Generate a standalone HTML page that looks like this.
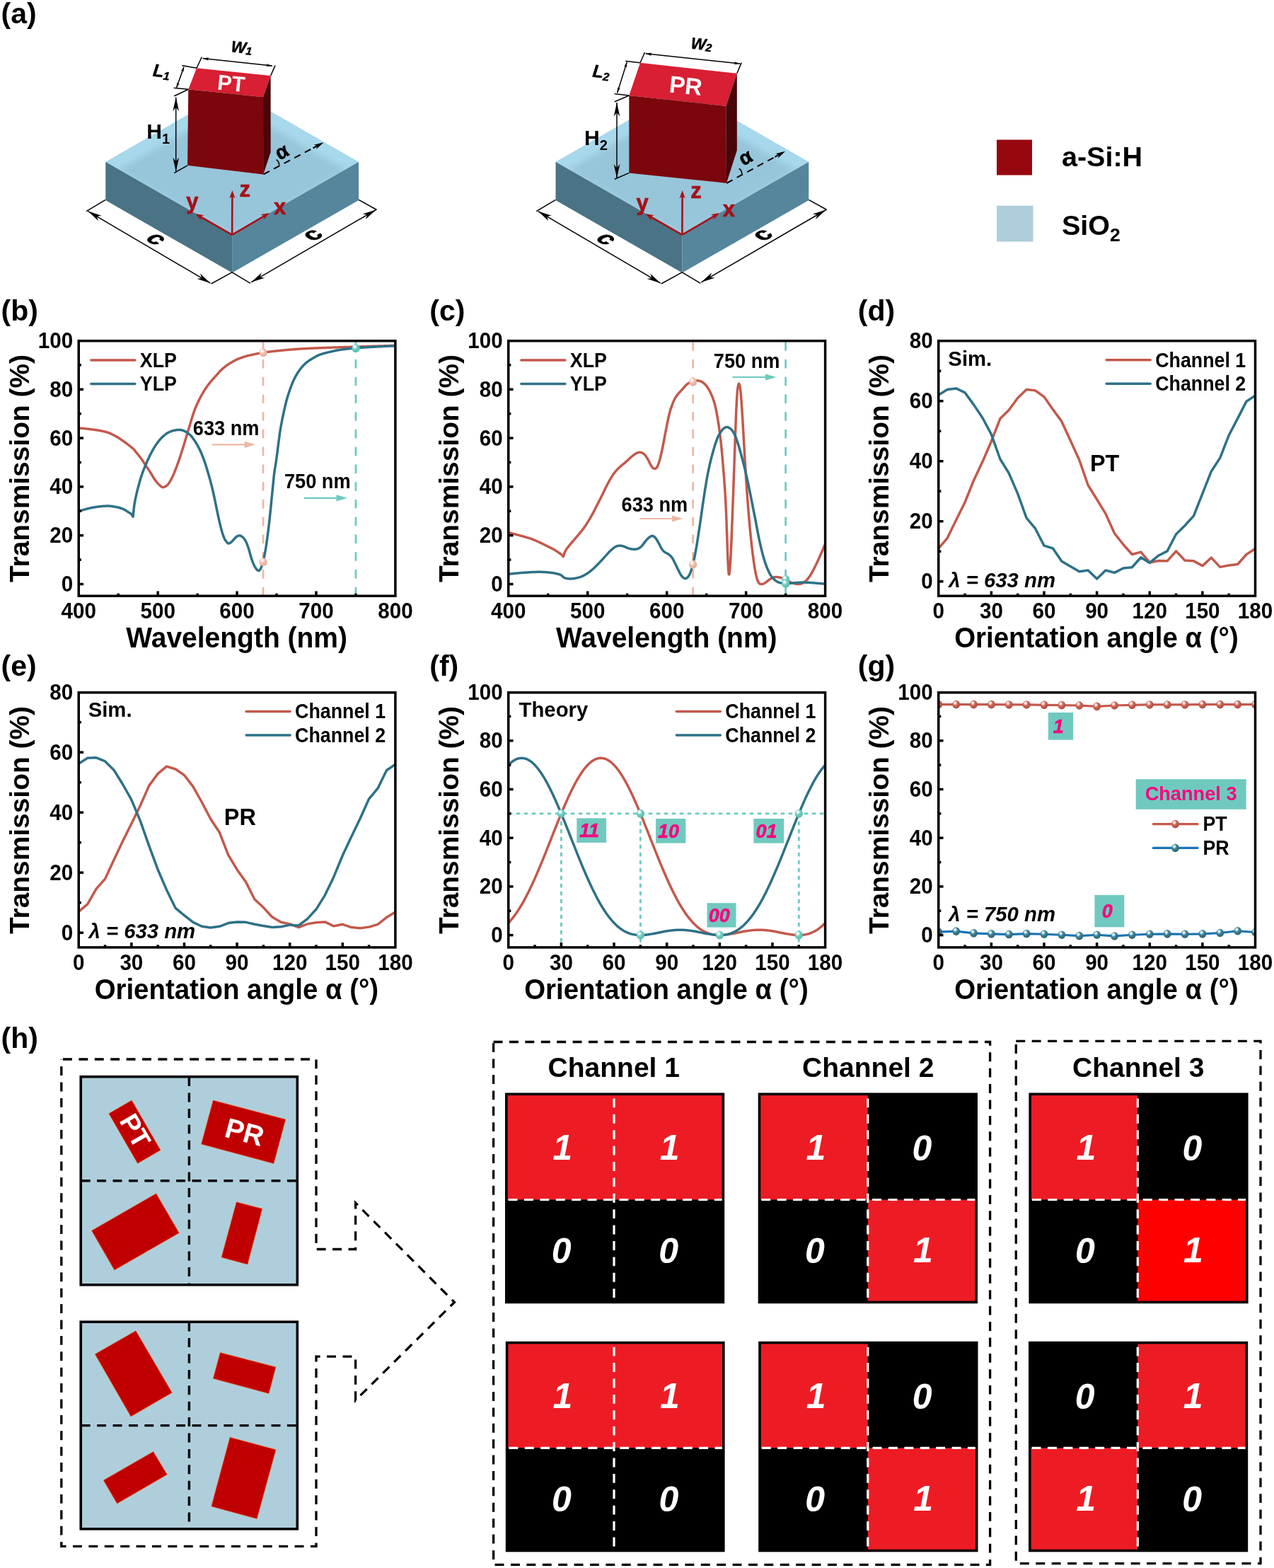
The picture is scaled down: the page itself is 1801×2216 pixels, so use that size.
<!DOCTYPE html>
<html lang="en"><head><meta charset="utf-8"><title>Figure</title>
<style>html,body{margin:0;padding:0;background:#fff}svg{display:block}text{font-family:'Liberation Sans', sans-serif;font-weight:bold}</style>
</head><body>
<svg width="1801" height="2216" viewBox="0 0 1801 2216" role="img" aria-label="Figure: nanostructure design, transmission spectra and encoding channels">
<defs>
<filter id="blur6" x="-30%" y="-30%" width="160%" height="160%"><feGaussianBlur stdDeviation="4.5"/></filter>
<radialGradient id="g_salmon" cx="0.40" cy="0.36" r="0.72" fx="0.36" fy="0.30"><stop offset="0" stop-color="#fff"/><stop offset="0.16" stop-color="#FFF3EE"/><stop offset="0.42" stop-color="#F0BFAE"/><stop offset="1" stop-color="#E3A591"/></radialGradient>
<radialGradient id="g_turq" cx="0.40" cy="0.36" r="0.72" fx="0.36" fy="0.30"><stop offset="0" stop-color="#fff"/><stop offset="0.16" stop-color="#E8FBF8"/><stop offset="0.42" stop-color="#73CEC4"/><stop offset="1" stop-color="#4FB5AA"/></radialGradient>
<radialGradient id="g_red" cx="0.40" cy="0.36" r="0.72" fx="0.36" fy="0.30"><stop offset="0" stop-color="#fff"/><stop offset="0.16" stop-color="#FBE3DE"/><stop offset="0.42" stop-color="#CC6657"/><stop offset="1" stop-color="#A9463A"/></radialGradient>
<radialGradient id="g_teal" cx="0.40" cy="0.36" r="0.72" fx="0.36" fy="0.30"><stop offset="0" stop-color="#fff"/><stop offset="0.16" stop-color="#D4ECF2"/><stop offset="0.42" stop-color="#3F8395"/><stop offset="1" stop-color="#255C6C"/></radialGradient>
<clipPath id="clip_top_0"><polygon points="149.25,228.75 328.15,126.25 507,228.75 328.1,331.25"/></clipPath>
<clipPath id="clip_top_636"><polygon points="785.5,228.75 964.4,126.25 1143.25,228.75 964.35,331.25"/></clipPath>
<clipPath id="cl_111_481"><rect x="111.25" y="481.75" width="447.65" height="360.5"/></clipPath>
<clipPath id="cl_718_481"><rect x="718.75" y="481.75" width="447.85" height="360.5"/></clipPath>
<clipPath id="cl_1326_481"><rect x="1326.75" y="481.75" width="447.75" height="360.5"/></clipPath>
<clipPath id="cl_111_978"><rect x="111.25" y="978.75" width="447.65" height="360.15"/></clipPath>
<clipPath id="cl_718_978"><rect x="718.75" y="978.75" width="447.85" height="360.15"/></clipPath>
<clipPath id="cl_1326_978"><rect x="1326.75" y="978.75" width="447.75" height="360.15"/></clipPath>
</defs>
<rect width="1801" height="2216" fill="#fff"/>
<text x="1.6" y="33" font-size="41">(a)</text>
<text x="1.6" y="452.8" font-size="41">(b)</text>
<text x="607.3" y="452.8" font-size="41">(c)</text>
<text x="1212.8" y="452.8" font-size="41">(d)</text>
<text x="1.6" y="954.8" font-size="41">(e)</text>
<text x="607.3" y="954.8" font-size="41">(f)</text>
<text x="1212.8" y="954.8" font-size="41">(g)</text>
<text x="1.6" y="1480.9" font-size="41">(h)</text>
<polygon points="149.25,228.75 328.15,126.25 507,228.75 328.1,331.25" fill="#A8D8EC"/>
<g clip-path="url(#clip_top_0)">
<polygon points="167.13,240.4 328.14,148.15 489.11,240.4 328.1,332.65" fill="#97C5DA" filter="url(#blur6)"/>
</g>
<polygon points="149.25,228.75 328.1,331.25 328.1,385.55 149.25,283.05" fill="#4A7385"/>
<polygon points="328.1,331.25 507,228.75 507,283.05 328.1,385.55" fill="#55869C"/>
<line x1="286.5" y1="82.6" x2="385" y2="93.1" stroke="#000" stroke-width="1.5"/>
<polygon points="385,93.1 375.82,94.33 378.56,92.41 376.28,89.96" fill="#000"/>
<polygon points="286.5,82.6 295.68,81.37 292.94,83.29 295.22,85.74" fill="#000"/>
<line x1="278" y1="96.2" x2="285.3" y2="80.5" stroke="#000" stroke-width="1.5"/>
<line x1="382.6" y1="107" x2="389" y2="92.6" stroke="#000" stroke-width="1.5"/>
<line x1="260" y1="94.6" x2="249.6" y2="123.8" stroke="#000" stroke-width="1.5"/>
<polygon points="249.6,123.8 250.06,116.53 251.29,119.05 253.83,117.88" fill="#000"/>
<polygon points="260,94.6 259.54,101.87 258.31,99.35 255.77,100.52" fill="#000"/>
<line x1="278" y1="96.2" x2="257.3" y2="92.4" stroke="#000" stroke-width="1.5"/>
<line x1="266.3" y1="126.3" x2="245.6" y2="124.3" stroke="#000" stroke-width="1.5"/>
<line x1="248.7" y1="137.5" x2="248.7" y2="242.2" stroke="#000" stroke-width="1.5"/>
<polygon points="248.7,242.2 244.4,222.7 248.7,228.16 253,222.7" fill="#000"/>
<polygon points="248.7,137.5 253,157 248.7,151.54 244.4,157" fill="#000"/>
<line x1="266.3" y1="126.3" x2="246.2" y2="135.7" stroke="#000" stroke-width="1.5"/>
<line x1="265" y1="233.8" x2="246.2" y2="244.6" stroke="#000" stroke-width="1.5"/>
<polygon points="266.3,126.3 278,96.2 382.6,107 372,137.2" fill="#D81F33"/>
<polygon points="266.3,126.3 372,137.2 372.2,246.4 265,233.8" fill="#7B060C"/>
<polygon points="372,137.2 382.6,107 382.6,215.3 372.2,246.4" fill="#4A0508"/>
<text x="326" y="128.2" font-size="30.5" text-anchor="middle" fill="#fff" transform="rotate(5.3 326 128.2)">PT</text>
<text x="326" y="73.3" font-size="22.6" font-style="italic" transform="rotate(6 326 73.3)" stroke="#000" stroke-width="0.5" stroke-linejoin="round">W<tspan font-size="15.5" dy="1.5">1</tspan></text>
<text x="215.5" y="107.5" font-size="25" font-style="italic" transform="rotate(6 215.5 107.5)" stroke="#000" stroke-width="0.5" stroke-linejoin="round">L<tspan font-size="16" dy="3.5">1</tspan></text>
<text x="207.3" y="196.3" font-size="30">H<tspan font-size="20" dy="7">1</tspan></text>
<line x1="372.5" y1="246.3" x2="450.53" y2="205.04" stroke="#000" stroke-width="2" stroke-dasharray="9.5 7"/>
<line x1="442.57" y1="209.25" x2="452.3" y2="204.1" stroke="#000" stroke-width="2"/>
<polygon points="457.6,201.3 446.91,211.03 448.69,206.01 443.54,204.66" fill="#000"/>
<path d="M390.6,225.6 Q394.6,228.3 394.6,233.2" fill="none" stroke="#000" stroke-width="1.7"/>
<text x="399.5" y="216.5" font-size="28" text-anchor="middle" transform="rotate(-29 399.5 216.5)" dy="7" stroke="#000" stroke-width="0.6">α</text>
<line x1="328.1" y1="331.9" x2="328.38" y2="274" stroke="#A61018" stroke-width="2.6"/>
<polygon points="328.4,269 332.54,280.62 328.36,277.35 324.14,280.58" fill="#A61018"/>
<line x1="328.1" y1="331.9" x2="280.63" y2="304.59" stroke="#A61018" stroke-width="2.6"/>
<polygon points="276.3,302.1 288.45,304.24 283.54,306.26 284.26,311.53" fill="#A61018"/>
<line x1="328.1" y1="331.9" x2="376.39" y2="303.53" stroke="#A61018" stroke-width="2.6"/>
<polygon points="380.7,301 372.83,310.5 373.5,305.23 368.57,303.25" fill="#A61018"/>
<text x="338.5" y="277.8" font-size="31" fill="#A61018" stroke="#A61018" stroke-width="0.7" stroke-linejoin="round">z</text>
<text x="263.3" y="294.8" font-size="31" fill="#A61018" stroke="#A61018" stroke-width="0.7" stroke-linejoin="round">y</text>
<text x="387" y="302.6" font-size="31" fill="#A61018" stroke="#A61018" stroke-width="0.7" stroke-linejoin="round">x</text>
<line x1="124.5" y1="298.6" x2="297.5" y2="400.2" stroke="#000" stroke-width="1.5"/>
<polygon points="297.5,400.2 278.51,394.03 285.39,393.09 282.86,386.62" fill="#000"/>
<polygon points="124.5,298.6 143.49,304.77 136.61,305.71 139.14,312.18" fill="#000"/>
<line x1="149.25" y1="282.3" x2="122" y2="298.6" stroke="#000" stroke-width="1.5"/>
<line x1="328" y1="384.8" x2="298.6" y2="401" stroke="#000" stroke-width="1.5"/>
<line x1="355.2" y1="398.8" x2="531.5" y2="296.5" stroke="#000" stroke-width="1.5"/>
<polygon points="531.5,296.5 516.79,310.01 519.36,303.55 512.48,302.57" fill="#000"/>
<polygon points="355.2,398.8 369.91,385.29 367.34,391.75 374.22,392.73" fill="#000"/>
<line x1="328" y1="384.8" x2="354" y2="400.3" stroke="#000" stroke-width="1.5"/>
<line x1="507" y1="282.3" x2="532.6" y2="296.5" stroke="#000" stroke-width="1.5"/>
<text transform="matrix(0.866 0.5 -0.866 0.5 211.9 342.65)" font-size="34" text-anchor="middle" x="0" y="0" stroke="#000" stroke-width="0.8">c</text>
<text transform="matrix(0.866 -0.5 0.866 0.5 450.6 336.9)" font-size="34" text-anchor="middle" x="0" y="0" stroke="#000" stroke-width="0.8">c</text>
<polygon points="785.5,228.75 964.4,126.25 1143.25,228.75 964.35,331.25" fill="#A8D8EC"/>
<g clip-path="url(#clip_top_636)">
<polygon points="803.38,240.4 964.39,148.15 1125.36,240.4 964.35,332.65" fill="#97C5DA" filter="url(#blur6)"/>
</g>
<polygon points="785.5,228.75 964.35,331.25 964.35,385.55 785.5,283.05" fill="#4A7385"/>
<polygon points="964.35,331.25 1143.25,228.75 1143.25,283.05 964.35,385.55" fill="#55869C"/>
<line x1="912.6" y1="75.8" x2="1046.3" y2="90.1" stroke="#000" stroke-width="1.5"/>
<polygon points="1046.3,90.1 1037.12,91.33 1039.86,89.41 1037.59,86.96" fill="#000"/>
<polygon points="912.6,75.8 921.78,74.57 919.04,76.49 921.31,78.94" fill="#000"/>
<line x1="905" y1="88.8" x2="911.5" y2="74" stroke="#000" stroke-width="1.5"/>
<line x1="1041.8" y1="103.8" x2="1048.2" y2="88.6" stroke="#000" stroke-width="1.5"/>
<line x1="886.3" y1="87.6" x2="872.6" y2="131.3" stroke="#000" stroke-width="1.5"/>
<polygon points="872.6,131.3 873.08,123.07 874.32,125.8 876.9,124.26" fill="#000"/>
<polygon points="886.3,87.6 885.82,95.83 884.58,93.1 882,94.64" fill="#000"/>
<line x1="905" y1="88.8" x2="884.3" y2="86.2" stroke="#000" stroke-width="1.5"/>
<line x1="889.3" y1="135" x2="868.6" y2="132.6" stroke="#000" stroke-width="1.5"/>
<line x1="872" y1="145" x2="872" y2="251.5" stroke="#000" stroke-width="1.5"/>
<polygon points="872,251.5 867.7,232 872,237.46 876.3,232" fill="#000"/>
<polygon points="872,145 876.3,164.5 872,159.04 867.7,164.5" fill="#000"/>
<line x1="889.3" y1="135" x2="868.8" y2="143.8" stroke="#000" stroke-width="1.5"/>
<line x1="889.3" y1="244.4" x2="868.8" y2="253.2" stroke="#000" stroke-width="1.5"/>
<polygon points="889.3,135 905,88.8 1041.8,103.8 1026.3,150" fill="#D81F33"/>
<polygon points="889.3,135 1026.3,150 1027,258.8 889.3,244.4" fill="#7B060C"/>
<polygon points="1026.3,150 1041.8,103.8 1041.8,212.5 1027,258.8" fill="#4A0508"/>
<text x="968.3" y="132.6" font-size="33.5" text-anchor="middle" fill="#fff" transform="rotate(5.8 968.3 132.6)">PR</text>
<text x="976" y="68.6" font-size="22.6" font-style="italic" transform="rotate(6 976 68.6)" stroke="#000" stroke-width="0.5" stroke-linejoin="round">W<tspan font-size="15.5" dy="1.5">2</tspan></text>
<text x="837" y="108.5" font-size="25" font-style="italic" transform="rotate(6 837 108.5)" stroke="#000" stroke-width="0.5" stroke-linejoin="round">L<tspan font-size="16" dy="3.5">2</tspan></text>
<text x="826" y="205" font-size="30">H<tspan font-size="20" dy="7">2</tspan></text>
<line x1="1027.2" y1="258.8" x2="1103.17" y2="217.61" stroke="#000" stroke-width="2" stroke-dasharray="9.5 7"/>
<line x1="1095.26" y1="221.9" x2="1104.93" y2="216.66" stroke="#000" stroke-width="2"/>
<polygon points="1110.2,213.8 1099.61,223.64 1101.34,218.6 1096.18,217.31" fill="#000"/>
<path d="M1044.8,238.2 Q1048.8,240.9 1048.8,245.8" fill="none" stroke="#000" stroke-width="1.7"/>
<text x="1055" y="224.5" font-size="28" text-anchor="middle" transform="rotate(-29 1055 224.5)" dy="7" stroke="#000" stroke-width="0.6">α</text>
<line x1="964.35" y1="331.9" x2="964.63" y2="274" stroke="#A61018" stroke-width="2.6"/>
<polygon points="964.65,269 968.79,280.62 964.61,277.35 960.39,280.58" fill="#A61018"/>
<line x1="964.35" y1="331.9" x2="916.88" y2="304.59" stroke="#A61018" stroke-width="2.6"/>
<polygon points="912.55,302.1 924.7,304.24 919.79,306.26 920.51,311.53" fill="#A61018"/>
<line x1="964.35" y1="331.9" x2="1012.64" y2="303.53" stroke="#A61018" stroke-width="2.6"/>
<polygon points="1016.95,301 1009.08,310.5 1009.75,305.23 1004.82,303.25" fill="#A61018"/>
<text x="976.25" y="280.3" font-size="31" fill="#A61018" stroke="#A61018" stroke-width="0.7" stroke-linejoin="round">z</text>
<text x="899.55" y="297.3" font-size="31" fill="#A61018" stroke="#A61018" stroke-width="0.7" stroke-linejoin="round">y</text>
<text x="1021.75" y="305.6" font-size="31" fill="#A61018" stroke="#A61018" stroke-width="0.7" stroke-linejoin="round">x</text>
<line x1="760.75" y1="298.6" x2="933.75" y2="400.2" stroke="#000" stroke-width="1.5"/>
<polygon points="933.75,400.2 914.76,394.03 921.64,393.09 919.11,386.62" fill="#000"/>
<polygon points="760.75,298.6 779.74,304.77 772.86,305.71 775.39,312.18" fill="#000"/>
<line x1="785.5" y1="282.3" x2="758.25" y2="298.6" stroke="#000" stroke-width="1.5"/>
<line x1="964.25" y1="384.8" x2="934.85" y2="401" stroke="#000" stroke-width="1.5"/>
<line x1="991.45" y1="398.8" x2="1167.75" y2="296.5" stroke="#000" stroke-width="1.5"/>
<polygon points="1167.75,296.5 1153.04,310.01 1155.61,303.55 1148.73,302.57" fill="#000"/>
<polygon points="991.45,398.8 1006.16,385.29 1003.59,391.75 1010.47,392.73" fill="#000"/>
<line x1="964.25" y1="384.8" x2="990.25" y2="400.3" stroke="#000" stroke-width="1.5"/>
<line x1="1143.25" y1="282.3" x2="1168.85" y2="296.5" stroke="#000" stroke-width="1.5"/>
<text transform="matrix(0.866 0.5 -0.866 0.5 848.15 342.65)" font-size="34" text-anchor="middle" x="0" y="0" stroke="#000" stroke-width="0.8">c</text>
<text transform="matrix(0.866 -0.5 0.866 0.5 1086.85 336.9)" font-size="34" text-anchor="middle" x="0" y="0" stroke="#000" stroke-width="0.8">c</text>
<rect x="1409" y="197.5" width="50" height="50" fill="#97070F"/>
<rect x="1409" y="290.7" width="51.5" height="50.8" fill="#AFCEDB"/>
<text x="1501" y="234.8" font-size="39.5">a-Si:H</text>
<text x="1501" y="332.2" font-size="39.5">SiO<tspan font-size="26.5" dy="8.4">2</tspan></text>
<line x1="372.01" y1="842.25" x2="372.01" y2="481.75" stroke="#EDB7A5" stroke-width="2.7" stroke-dasharray="12.4 12.35"/>
<line x1="502.94" y1="842.25" x2="502.94" y2="481.75" stroke="#6CCAC0" stroke-width="2.7" stroke-dasharray="12.4 12.35"/>
<polyline points="111.25,605 111.82,605.03 112.38,605.06 112.95,605.09 113.51,605.13 114.08,605.17 114.65,605.21 115.21,605.26 115.78,605.3 116.34,605.35 116.91,605.4 117.48,605.46 118.04,605.51 118.61,605.57 119.18,605.63 119.74,605.69 120.31,605.75 120.87,605.81 121.44,605.87 122.01,605.94 122.57,606.01 123.14,606.07 123.7,606.14 124.27,606.21 124.84,606.28 125.4,606.35 125.97,606.42 126.53,606.49 127.1,606.57 127.67,606.64 128.23,606.71 128.8,606.79 129.37,606.86 129.93,606.93 130.5,607 131.06,607.08 131.63,607.15 132.2,607.22 132.76,607.29 133.33,607.37 133.89,607.44 134.46,607.51 135.03,607.59 135.59,607.67 136.16,607.75 136.72,607.83 137.29,607.92 137.86,608.01 138.42,608.1 138.99,608.2 139.55,608.29 140.12,608.39 140.69,608.5 141.25,608.6 141.82,608.71 142.39,608.82 142.95,608.93 143.52,609.04 144.08,609.16 144.65,609.28 145.22,609.4 145.78,609.52 146.35,609.65 146.91,609.78 147.48,609.91 148.05,610.04 148.61,610.17 149.18,610.31 149.74,610.44 150.31,610.59 150.88,610.74 151.44,610.91 152.01,611.09 152.58,611.28 153.14,611.49 153.71,611.7 154.27,611.93 154.84,612.16 155.41,612.4 155.97,612.65 156.54,612.91 157.1,613.17 157.67,613.44 158.24,613.72 158.8,614 159.37,614.28 159.93,614.57 160.5,614.86 161.07,615.15 161.63,615.44 162.2,615.73 162.76,616.02 163.33,616.32 163.9,616.63 164.46,616.94 165.03,617.27 165.6,617.6 166.16,617.94 166.73,618.29 167.29,618.65 167.86,619.01 168.43,619.37 168.99,619.75 169.56,620.12 170.12,620.5 170.69,620.89 171.26,621.28 171.82,621.67 172.39,622.06 172.95,622.46 173.52,622.85 174.09,623.25 174.65,623.64 175.22,624.04 175.79,624.44 176.35,624.85 176.92,625.25 177.48,625.67 178.05,626.08 178.62,626.5 179.18,626.92 179.75,627.35 180.31,627.78 180.88,628.21 181.45,628.65 182.01,629.09 182.58,629.53 183.14,629.98 183.71,630.43 184.28,630.88 184.84,631.33 185.41,631.79 185.97,632.25 186.54,632.71 187.11,633.18 187.67,633.64 188.24,634.11 188.81,634.58 188.81,634.58 189.37,635.27 189.93,635.96 190.49,636.65 191.05,637.35 191.61,638.04 192.17,638.74 192.73,639.44 193.29,640.14 193.85,640.85 194.41,641.55 194.97,642.25 195.53,642.95 196.1,643.64 196.66,644.34 197.22,645.04 197.78,645.75 198.34,646.47 198.9,647.2 199.46,647.95 200.02,648.72 200.58,649.51 201.14,650.32 201.7,651.14 202.26,651.99 202.82,652.84 203.38,653.71 203.95,654.57 204.51,655.45 205.07,656.31 205.63,657.18 206.19,658.03 206.75,658.88 207.31,659.72 207.87,660.56 208.43,661.4 208.99,662.23 209.55,663.07 210.11,663.91 210.67,664.76 211.24,665.61 211.8,666.47 212.36,667.33 212.92,668.22 213.48,669.13 214.04,670.06 214.6,671.01 215.16,671.96 215.72,672.92 216.28,673.86 216.84,674.78 217.4,675.68 217.96,676.54 218.53,677.35 219.09,678.13 219.65,678.89 220.21,679.64 220.77,680.37 221.33,681.08 221.89,681.77 222.45,682.43 223.01,683.07 223.57,683.68 224.13,684.26 224.69,684.81 225.25,685.32 225.81,685.83 226.38,686.35 226.94,686.84 227.5,687.31 228.06,687.73 228.62,688.09 229.18,688.37 229.74,688.56 230.3,688.64 230.86,688.63 231.42,688.54 231.98,688.38 232.54,688.18 233.1,687.95 233.67,687.7 234.23,687.37 234.79,686.97 235.35,686.52 235.91,686.03 236.47,685.5 237.03,684.93 237.59,684.35 238.15,683.7 238.71,682.96 239.27,682.14 239.83,681.25 240.39,680.31 240.96,679.31 241.52,678.28 242.08,677.22 242.64,676.13 243.2,675.04 243.76,673.92 244.32,672.75 244.88,671.52 245.44,670.25 246,668.93 246.56,667.57 247.12,666.18 247.68,664.76 248.24,663.32 248.81,661.86 249.37,660.39 249.93,658.91 250.49,657.42 251.05,655.89 251.61,654.33 252.17,652.74 252.73,651.13 253.29,649.48 253.85,647.82 254.41,646.14 254.97,644.45 255.53,642.74 256.1,641.02 256.66,639.3 257.22,637.56 257.78,635.79 258.34,634 258.9,632.19 259.46,630.36 260.02,628.52 260.58,626.66 261.14,624.81 261.7,622.95 262.26,621.1 262.82,619.25 263.39,617.38 263.95,615.5 264.51,613.62 265.07,611.73 265.63,609.83 266.19,607.94 266.75,606.06 267.31,604.18 267.87,602.31 268.43,600.46 268.99,598.64 269.55,596.81 270.11,594.96 270.67,593.11 271.24,591.26 271.8,589.42 272.36,587.61 272.92,585.84 273.48,584.13 274.04,582.48 274.6,580.9 275.16,579.41 275.72,577.97 276.28,576.57 276.84,575.22 277.4,573.9 277.96,572.61 278.53,571.36 279.09,570.14 279.65,568.94 280.21,567.77 280.77,566.62 281.33,565.49 281.89,564.38 282.45,563.27 283.01,562.19 283.57,561.11 284.13,560.05 284.69,559.01 285.25,557.99 285.82,556.98 286.38,556 286.94,555.04 287.5,554.11 288.06,553.19 288.62,552.29 289.18,551.4 289.74,550.52 290.3,549.65 290.86,548.8 291.42,547.97 291.98,547.15 292.54,546.35 293.1,545.56 293.67,544.8 294.23,544.05 294.79,543.31 295.35,542.59 295.91,541.87 296.47,541.17 297.03,540.48 297.59,539.79 298.15,539.12 298.71,538.45 299.27,537.79 299.83,537.13 300.39,536.48 300.96,535.85 301.52,535.22 302.08,534.6 302.64,533.99 303.2,533.38 303.76,532.77 304.32,532.16 304.88,531.55 305.44,530.94 306,530.32 306.56,529.69 307.12,529.05 307.68,528.39 308.24,527.73 308.81,527.07 309.37,526.42 309.93,525.78 310.49,525.15 311.05,524.54 311.61,523.96 312.17,523.4 312.73,522.88 313.29,522.37 313.85,521.87 314.41,521.38 314.97,520.89 315.53,520.41 316.1,519.94 316.66,519.47 317.22,519.02 317.78,518.57 318.34,518.13 318.9,517.69 319.46,517.27 320.02,516.85 320.58,516.44 321.14,516.04 321.7,515.65 322.26,515.26 322.82,514.88 323.39,514.51 323.95,514.15 324.51,513.8 325.07,513.45 325.63,513.11 326.19,512.77 326.75,512.43 327.31,512.1 327.87,511.76 328.43,511.43 328.99,511.1 329.55,510.78 330.11,510.46 330.67,510.15 331.24,509.84 331.8,509.53 332.36,509.24 332.92,508.95 333.48,508.66 334.04,508.39 334.6,508.12 335.16,507.86 335.72,507.61 336.28,507.37 336.84,507.14 337.4,506.92 337.96,506.71 338.53,506.5 339.09,506.29 339.65,506.08 340.21,505.88 340.77,505.68 341.33,505.48 341.89,505.28 342.45,505.09 343.01,504.9 343.57,504.72 344.13,504.54 344.69,504.36 345.25,504.18 345.82,504.01 346.38,503.84 346.94,503.68 347.5,503.52 348.06,503.36 348.62,503.21 349.18,503.06 349.74,502.91 350.3,502.77 350.86,502.63 351.42,502.49 351.98,502.36 352.54,502.22 353.1,502.09 353.67,501.96 354.23,501.83 354.79,501.7 355.35,501.58 355.91,501.45 356.47,501.33 357.03,501.21 357.59,501.09 358.15,500.97 358.71,500.85 359.27,500.73 359.83,500.62 360.39,500.5 360.96,500.39 361.52,500.28 362.08,500.16 362.64,500.05 363.2,499.94 363.76,499.82 364.32,499.71 364.88,499.6 365.44,499.48 366,499.37 366.56,499.26 367.12,499.16 367.68,499.05 368.25,498.95 368.81,498.85 369.37,498.75 369.93,498.65 370.49,498.56 371.05,498.47 371.61,498.38 372.17,498.3 372.73,498.22 373.29,498.13 373.85,498.05 374.41,497.97 374.97,497.9 375.53,497.82 376.1,497.74 376.66,497.66 377.22,497.59 377.78,497.51 378.34,497.44 378.9,497.36 379.46,497.29 380.02,497.22 380.58,497.15 381.14,497.08 381.7,497.01 382.26,496.94 382.82,496.87 383.39,496.8 383.95,496.73 384.51,496.67 385.07,496.6 385.63,496.54 386.19,496.47 386.75,496.41 387.31,496.35 387.87,496.28 388.43,496.22 388.99,496.16 389.55,496.1 390.11,496.04 390.68,495.98 391.24,495.93 391.8,495.87 392.36,495.81 392.92,495.75 393.48,495.7 394.04,495.64 394.6,495.58 395.16,495.53 395.72,495.47 396.28,495.42 396.84,495.36 397.4,495.3 397.96,495.25 398.53,495.19 399.09,495.14 399.65,495.09 400.21,495.03 400.77,494.98 401.33,494.93 401.89,494.87 402.45,494.82 403.01,494.77 403.57,494.72 404.13,494.66 404.69,494.61 405.25,494.56 405.82,494.51 406.38,494.46 406.94,494.41 407.5,494.37 408.06,494.32 408.62,494.27 409.18,494.22 409.74,494.18 410.3,494.13 410.86,494.08 411.42,494.04 411.98,493.99 412.54,493.95 413.11,493.91 413.67,493.86 414.23,493.82 414.79,493.78 415.35,493.74 415.91,493.69 416.47,493.65 417.03,493.61 417.59,493.57 418.15,493.52 418.71,493.48 419.27,493.44 419.83,493.4 420.39,493.36 420.96,493.32 421.52,493.28 422.08,493.24 422.64,493.2 423.2,493.16 423.76,493.12 424.32,493.08 424.88,493.04 425.44,493 426,492.97 426.56,492.93 427.12,492.89 427.68,492.86 428.25,492.82 428.81,492.79 429.37,492.76 429.93,492.72 430.49,492.69 431.05,492.66 431.61,492.63 432.17,492.6 432.73,492.57 433.29,492.54 433.85,492.52 434.41,492.49 434.97,492.46 435.54,492.44 436.1,492.41 436.66,492.39 437.22,492.36 437.78,492.33 438.34,492.31 438.9,492.28 439.46,492.26 440.02,492.24 440.58,492.21 441.14,492.19 441.7,492.16 442.26,492.14 442.82,492.11 443.39,492.09 443.95,492.07 444.51,492.04 445.07,492.02 445.63,492 446.19,491.98 446.75,491.95 447.31,491.93 447.87,491.91 448.43,491.89 448.99,491.86 449.55,491.84 450.11,491.82 450.68,491.8 451.24,491.78 451.8,491.75 452.36,491.73 452.92,491.71 453.48,491.69 454.04,491.67 454.6,491.65 455.16,491.63 455.72,491.61 456.28,491.59 456.84,491.57 457.4,491.54 457.97,491.52 458.53,491.5 459.09,491.48 459.65,491.46 460.21,491.44 460.77,491.42 461.33,491.4 461.89,491.39 462.45,491.37 463.01,491.35 463.57,491.33 464.13,491.31 464.69,491.29 465.25,491.27 465.82,491.25 466.38,491.23 466.94,491.21 467.5,491.19 468.06,491.18 468.62,491.16 469.18,491.14 469.74,491.12 470.3,491.1 470.86,491.08 471.42,491.06 471.98,491.05 472.54,491.03 473.11,491.01 473.67,490.99 474.23,490.97 474.79,490.96 475.35,490.94 475.91,490.92 476.47,490.9 477.03,490.89 477.59,490.87 478.15,490.85 478.71,490.83 479.27,490.82 479.83,490.8 480.4,490.78 480.96,490.76 481.52,490.75 482.08,490.73 482.64,490.71 483.2,490.7 483.76,490.68 484.32,490.66 484.88,490.65 485.44,490.63 486,490.61 486.56,490.59 487.12,490.58 487.68,490.56 488.25,490.54 488.81,490.53 489.37,490.51 489.93,490.49 490.49,490.48 491.05,490.46 491.61,490.44 492.17,490.43 492.73,490.41 493.29,490.39 493.85,490.38 494.41,490.36 494.97,490.34 495.54,490.32 496.1,490.31 496.66,490.29 497.22,490.27 497.78,490.26 498.34,490.24 498.9,490.22 499.46,490.21 500.02,490.19 500.58,490.17 501.14,490.16 501.7,490.14 502.26,490.12 502.83,490.1 503.39,490.09 503.95,490.07 504.51,490.05 505.07,490.03 505.63,490.02 506.19,490 506.75,489.98 507.31,489.97 507.87,489.95 508.43,489.93 508.99,489.91 509.55,489.9 510.11,489.88 510.68,489.86 511.24,489.85 511.8,489.83 512.36,489.81 512.92,489.79 513.48,489.78 514.04,489.76 514.6,489.74 515.16,489.72 515.72,489.71 516.28,489.69 516.84,489.67 517.4,489.66 517.97,489.64 518.53,489.62 519.09,489.6 519.65,489.59 520.21,489.57 520.77,489.55 521.33,489.53 521.89,489.52 522.45,489.5 523.01,489.48 523.57,489.47 524.13,489.45 524.69,489.43 525.26,489.41 525.82,489.4 526.38,489.38 526.94,489.36 527.5,489.35 528.06,489.33 528.62,489.31 529.18,489.29 529.74,489.28 530.3,489.26 530.86,489.24 531.42,489.22 531.98,489.21 532.54,489.19 533.11,489.17 533.67,489.16 534.23,489.14 534.79,489.12 535.35,489.1 535.91,489.09 536.47,489.07 537.03,489.05 537.59,489.03 538.15,489.02 538.71,489 539.27,488.98 539.83,488.97 540.4,488.95 540.96,488.93 541.52,488.91 542.08,488.9 542.64,488.88 543.2,488.86 543.76,488.85 544.32,488.83 544.88,488.81 545.44,488.79 546,488.78 546.56,488.76 547.12,488.74 547.69,488.72 548.25,488.71 548.81,488.69 549.37,488.67 549.93,488.66 550.49,488.64 551.05,488.62 551.61,488.6 552.17,488.59 552.73,488.57 553.29,488.55 553.85,488.54 554.41,488.52 554.97,488.5 555.54,488.48 556.1,488.47 556.66,488.45 557.22,488.43 557.78,488.41 558.34,488.4 558.9,488.38" fill="none" stroke="#C3594B" stroke-width="3.5" stroke-linejoin="round" stroke-linecap="round" clip-path="url(#cl_111_481)"/>
<polyline points="111.25,722.64 111.81,722.46 112.38,722.27 112.94,722.08 113.51,721.9 114.07,721.72 114.64,721.54 115.2,721.36 115.77,721.19 116.33,721.01 116.89,720.84 117.46,720.67 118.02,720.51 118.59,720.34 119.15,720.18 119.72,720.02 120.28,719.87 120.85,719.72 121.41,719.56 121.98,719.41 122.54,719.26 123.1,719.11 123.67,718.96 124.23,718.81 124.8,718.67 125.36,718.52 125.93,718.38 126.49,718.25 127.06,718.11 127.62,717.98 128.18,717.86 128.75,717.74 129.31,717.63 129.88,717.52 130.44,717.41 131.01,717.31 131.57,717.21 132.14,717.11 132.7,717.01 133.27,716.91 133.83,716.81 134.39,716.72 134.96,716.63 135.52,716.54 136.09,716.45 136.65,716.37 137.22,716.28 137.78,716.21 138.35,716.13 138.91,716.06 139.47,715.98 140.04,715.92 140.6,715.85 141.17,715.79 141.73,715.74 142.3,715.68 142.86,715.63 143.43,715.58 143.99,715.52 144.56,715.47 145.12,715.43 145.68,715.38 146.25,715.34 146.81,715.3 147.38,715.26 147.94,715.23 148.51,715.19 149.07,715.17 149.64,715.14 150.2,715.12 150.76,715.1 151.33,715.09 151.89,715.08 152.46,715.08 153.02,715.08 153.59,715.09 154.15,715.12 154.72,715.15 155.28,715.19 155.85,715.25 156.41,715.3 156.97,715.37 157.54,715.44 158.1,715.52 158.67,715.6 159.23,715.69 159.8,715.78 160.36,715.87 160.93,715.96 161.49,716.06 162.05,716.15 162.62,716.25 163.18,716.34 163.75,716.44 164.31,716.53 164.88,716.63 165.44,716.75 166.01,716.87 166.57,717 167.14,717.14 167.7,717.29 168.26,717.45 168.83,717.61 169.39,717.78 169.96,717.96 170.52,718.15 171.09,718.35 171.65,718.55 172.22,718.76 172.78,718.97 173.34,719.19 173.91,719.42 174.47,719.65 175.04,719.89 175.6,720.15 176.17,720.44 176.73,720.76 177.3,721.09 177.86,721.45 178.43,721.82 178.99,722.2 179.55,722.58 180.12,722.96 180.68,723.33 181.25,723.7 181.81,724.06 182.38,724.39 182.94,724.71 183.51,725.03 184.07,725.37 184.63,725.74 185.2,726.15 185.76,726.72 186.33,727.46 186.89,728.32 187.46,729.25 188.02,730.21 188.02,730.21 188.58,724.65 189.14,719.63 189.71,714.96 190.27,711.29 190.83,708.15 191.39,705.28 191.95,702.61 192.51,700.08 193.07,697.62 193.63,695.24 194.19,692.94 194.76,690.74 195.32,688.63 195.88,686.53 196.44,684.45 197,682.39 197.56,680.38 198.12,678.43 198.68,676.53 199.24,674.72 199.8,672.99 200.37,671.35 200.93,669.75 201.49,668.19 202.05,666.67 202.61,665.18 203.17,663.72 203.73,662.3 204.29,660.9 204.85,659.53 205.42,658.17 205.98,656.84 206.54,655.53 207.1,654.23 207.66,652.94 208.22,651.66 208.78,650.39 209.34,649.15 209.9,647.92 210.47,646.71 211.03,645.53 211.59,644.37 212.15,643.24 212.71,642.14 213.27,641.06 213.83,639.98 214.39,638.92 214.95,637.88 215.52,636.85 216.08,635.85 216.64,634.86 217.2,633.9 217.76,632.97 218.32,632.06 218.88,631.18 219.44,630.31 220,629.46 220.56,628.62 221.13,627.79 221.69,626.98 222.25,626.19 222.81,625.41 223.37,624.66 223.93,623.93 224.49,623.23 225.05,622.55 225.61,621.9 226.18,621.25 226.74,620.61 227.3,619.99 227.86,619.38 228.42,618.79 228.98,618.22 229.54,617.67 230.1,617.14 230.66,616.64 231.23,616.15 231.79,615.67 232.35,615.2 232.91,614.72 233.47,614.26 234.03,613.81 234.59,613.38 235.15,612.96 235.71,612.57 236.28,612.21 236.84,611.88 237.4,611.58 237.96,611.3 238.52,611.03 239.08,610.76 239.64,610.5 240.2,610.25 240.76,610 241.33,609.76 241.89,609.54 242.45,609.33 243.01,609.13 243.57,608.94 244.13,608.78 244.69,608.63 245.25,608.5 245.81,608.38 246.37,608.27 246.94,608.16 247.5,608.06 248.06,607.95 248.62,607.85 249.18,607.76 249.74,607.68 250.3,607.6 250.86,607.54 251.42,607.48 251.99,607.44 252.55,607.41 253.11,607.4 253.67,607.42 254.23,607.46 254.79,607.52 255.35,607.6 255.91,607.69 256.47,607.8 257.04,607.92 257.6,608.04 258.16,608.16 258.72,608.33 259.28,608.54 259.84,608.77 260.4,609.04 260.96,609.32 261.52,609.61 262.09,609.91 262.65,610.2 263.21,610.51 263.77,610.85 264.33,611.21 264.89,611.59 265.45,611.99 266.01,612.41 266.57,612.85 267.14,613.31 267.7,613.78 268.26,614.27 268.82,614.77 269.38,615.29 269.94,615.86 270.5,616.48 271.06,617.15 271.62,617.85 272.18,618.59 272.75,619.35 273.31,620.14 273.87,620.94 274.43,621.75 274.99,622.56 275.55,623.39 276.11,624.25 276.67,625.14 277.23,626.06 277.8,627.01 278.36,627.99 278.92,628.99 279.48,630.01 280.04,631.05 280.6,632.1 281.16,633.17 281.72,634.26 282.28,635.39 282.85,636.57 283.41,637.77 283.97,639.02 284.53,640.3 285.09,641.62 285.65,642.97 286.21,644.35 286.77,645.75 287.33,647.19 287.9,648.66 288.46,650.2 289.02,651.8 289.58,653.46 290.14,655.16 290.7,656.91 291.26,658.69 291.82,660.5 292.38,662.33 292.95,664.18 293.51,666.04 294.07,667.91 294.63,669.81 295.19,671.75 295.75,673.72 296.31,675.73 296.87,677.77 297.43,679.84 297.99,681.95 298.56,684.1 299.12,686.28 299.68,688.49 300.24,690.75 300.8,693.09 301.36,695.54 301.92,698.05 302.48,700.62 303.04,703.23 303.61,705.85 304.17,708.5 304.73,711.23 305.29,714.01 305.85,716.8 306.41,719.59 306.97,722.33 307.53,725 308.09,727.62 308.66,730.21 309.22,732.78 309.78,735.29 310.34,737.72 310.9,740.07 311.46,742.35 312.02,744.62 312.58,746.85 313.14,749.01 313.71,751.06 314.27,752.96 314.83,754.69 315.39,756.26 315.95,757.8 316.51,759.26 317.07,760.63 317.63,761.86 318.19,762.93 318.76,763.8 319.32,764.54 319.88,765.3 320.44,766.03 321,766.7 321.56,767.27 322.12,767.71 322.68,767.99 323.24,768.06 323.8,767.95 324.37,767.76 324.93,767.48 325.49,767.15 326.05,766.76 326.61,766.32 327.17,765.85 327.73,765.36 328.29,764.83 328.85,764.24 329.42,763.6 329.98,762.94 330.54,762.26 331.1,761.6 331.66,760.98 332.22,760.4 332.78,759.89 333.34,759.38 333.9,758.89 334.47,758.43 335.03,758.02 335.59,757.67 336.15,757.41 336.71,757.21 337.27,757.08 337.83,756.99 338.39,756.96 338.95,756.97 339.52,757.04 340.08,757.18 340.64,757.42 341.2,757.73 341.76,758.11 342.32,758.53 342.88,758.98 343.44,759.43 344,759.94 344.57,760.57 345.13,761.3 345.69,762.12 346.25,763.01 346.81,763.95 347.37,764.93 347.93,766 348.49,767.24 349.05,768.61 349.61,770.09 350.18,771.65 350.74,773.27 351.3,774.92 351.86,776.68 352.42,778.59 352.98,780.61 353.54,782.66 354.1,784.67 354.66,786.6 355.23,788.38 355.79,790.12 356.35,791.82 356.91,793.44 357.47,794.94 358.03,796.29 358.59,797.53 359.15,798.7 359.71,799.8 360.28,800.83 360.84,801.78 361.4,802.66 361.96,803.51 362.52,804.31 363.08,805.02 363.64,805.57 364.2,806.02 364.76,806.36 365.33,806.56 365.89,806.53 366.45,806.21 367.01,805.69 367.57,805.07 368.13,804.33 368.69,803.25 369.25,801.93 369.81,800.5 370.38,798.99 370.94,797.22 371.5,795.25 372.06,793.14 372.62,790.85 373.18,788.37 373.74,785.71 374.3,782.9 374.86,779.95 375.42,776.78 375.99,773.23 376.55,769.41 377.11,765.41 377.67,761.37 378.23,757.24 378.79,752.94 379.35,748.48 379.91,743.86 380.47,739.06 381.04,734.03 381.6,728.81 382.16,723.48 382.72,718.07 383.28,712.5 383.84,706.78 384.4,701.03 384.96,695.37 385.52,689.68 386.09,683.87 386.65,678.2 387.21,672.91 387.77,668.25 388.33,664.31 388.89,660.84 389.45,657.54 390.01,654.11 390.57,650.26 391.14,646.12 391.7,641.85 392.26,637.5 392.82,632.99 393.38,628.46 393.94,624.08 394.5,619.86 395.06,615.71 395.62,611.73 396.18,608.06 396.75,604.7 397.31,601.51 397.87,598.47 398.43,595.53 398.99,592.7 399.55,589.93 400.11,587.21 400.67,584.55 401.23,581.95 401.8,579.42 402.36,576.96 402.92,574.57 403.48,572.22 404.04,569.91 404.6,567.69 405.16,565.56 405.72,563.56 406.28,561.66 406.85,559.82 407.41,558.05 407.97,556.32 408.53,554.63 409.09,552.95 409.65,551.29 410.21,549.66 410.77,548.06 411.33,546.51 411.9,545.01 412.46,543.56 413.02,542.13 413.58,540.74 414.14,539.41 414.7,538.16 415.26,537 415.82,535.86 416.38,534.75 416.95,533.65 417.51,532.58 418.07,531.54 418.63,530.53 419.19,529.54 419.75,528.59 420.31,527.67 420.87,526.79 421.43,525.94 421.99,525.12 422.56,524.3 423.12,523.51 423.68,522.73 424.24,521.97 424.8,521.22 425.36,520.5 425.92,519.81 426.48,519.13 427.04,518.49 427.61,517.86 428.17,517.26 428.73,516.66 429.29,516.07 429.85,515.49 430.41,514.93 430.97,514.39 431.53,513.86 432.09,513.35 432.66,512.86 433.22,512.39 433.78,511.94 434.34,511.51 434.9,511.09 435.46,510.67 436.02,510.27 436.58,509.87 437.14,509.48 437.71,509.11 438.27,508.74 438.83,508.38 439.39,508.04 439.95,507.7 440.51,507.37 441.07,507.04 441.63,506.71 442.19,506.38 442.76,506.05 443.32,505.72 443.88,505.39 444.44,505.07 445,504.74 445.56,504.43 446.12,504.11 446.68,503.8 447.24,503.5 447.8,503.21 448.37,502.92 448.93,502.65 449.49,502.38 450.05,502.12 450.61,501.88 451.17,501.64 451.73,501.42 452.29,501.21 452.85,501.01 453.42,500.83 453.98,500.64 454.54,500.46 455.1,500.28 455.66,500.11 456.22,499.94 456.78,499.78 457.34,499.62 457.9,499.46 458.47,499.31 459.03,499.15 459.59,499.01 460.15,498.86 460.71,498.71 461.27,498.57 461.83,498.43 462.39,498.29 462.95,498.16 463.52,498.02 464.08,497.89 464.64,497.75 465.2,497.62 465.76,497.49 466.32,497.36 466.88,497.22 467.44,497.09 468,496.95 468.57,496.82 469.13,496.69 469.69,496.56 470.25,496.42 470.81,496.29 471.37,496.17 471.93,496.04 472.49,495.92 473.05,495.79 473.61,495.67 474.18,495.55 474.74,495.44 475.3,495.33 475.86,495.22 476.42,495.11 476.98,495.01 477.54,494.92 478.1,494.82 478.66,494.73 479.23,494.64 479.79,494.54 480.35,494.45 480.91,494.37 481.47,494.28 482.03,494.19 482.59,494.11 483.15,494.03 483.71,493.95 484.28,493.87 484.84,493.79 485.4,493.71 485.96,493.64 486.52,493.56 487.08,493.49 487.64,493.42 488.2,493.35 488.76,493.28 489.33,493.22 489.89,493.15 490.45,493.09 491.01,493.02 491.57,492.96 492.13,492.89 492.69,492.83 493.25,492.77 493.81,492.7 494.38,492.64 494.94,492.58 495.5,492.52 496.06,492.46 496.62,492.4 497.18,492.34 497.74,492.28 498.3,492.22 498.86,492.17 499.42,492.12 499.99,492.06 500.55,492.01 501.11,491.97 501.67,491.92 502.23,491.87 502.79,491.83 503.35,491.79 503.91,491.75 504.47,491.71 505.04,491.67 505.6,491.63 506.16,491.59 506.72,491.55 507.28,491.51 507.84,491.47 508.4,491.43 508.96,491.4 509.52,491.36 510.09,491.32 510.65,491.29 511.21,491.25 511.77,491.21 512.33,491.18 512.89,491.14 513.45,491.1 514.01,491.07 514.57,491.03 515.14,491 515.7,490.96 516.26,490.93 516.82,490.9 517.38,490.86 517.94,490.83 518.5,490.79 519.06,490.76 519.62,490.73 520.19,490.7 520.75,490.66 521.31,490.63 521.87,490.6 522.43,490.57 522.99,490.53 523.55,490.5 524.11,490.47 524.67,490.44 525.23,490.41 525.8,490.38 526.36,490.35 526.92,490.32 527.48,490.28 528.04,490.25 528.6,490.22 529.16,490.19 529.72,490.16 530.28,490.13 530.85,490.1 531.41,490.07 531.97,490.04 532.53,490.01 533.09,489.99 533.65,489.96 534.21,489.93 534.77,489.9 535.33,489.87 535.9,489.84 536.46,489.81 537.02,489.78 537.58,489.75 538.14,489.72 538.7,489.69 539.26,489.66 539.82,489.63 540.38,489.6 540.95,489.57 541.51,489.55 542.07,489.52 542.63,489.49 543.19,489.46 543.75,489.43 544.31,489.4 544.87,489.37 545.43,489.35 546,489.32 546.56,489.29 547.12,489.26 547.68,489.24 548.24,489.21 548.8,489.18 549.36,489.15 549.92,489.13 550.48,489.1 551.04,489.07 551.61,489.05 552.17,489.02 552.73,489 553.29,488.97 553.85,488.94 554.41,488.92 554.97,488.89 555.53,488.87 556.09,488.84 556.66,488.82 557.22,488.8 557.78,488.77 558.34,488.75 558.9,488.72" fill="none" stroke="#2E7187" stroke-width="3.5" stroke-linejoin="round" stroke-linecap="round" clip-path="url(#cl_111_481)"/>
<ellipse cx="372.01" cy="498.36" rx="5.6" ry="5.99" fill="url(#g_salmon)"/>
<ellipse cx="372.01" cy="794.2" rx="5.6" ry="5.99" fill="url(#g_salmon)"/>
<ellipse cx="502.94" cy="492.16" rx="5.6" ry="5.99" fill="url(#g_turq)"/>
<line x1="128.85" y1="508.9" x2="190.85" y2="508.9" stroke="#C3594B" stroke-width="3.5" stroke-linecap="round"/>
<text x="0" y="0" font-size="26.8" transform="translate(197.85 518.7) scale(1 1.075)">XLP</text>
<line x1="128.85" y1="542.4" x2="190.85" y2="542.4" stroke="#2E7187" stroke-width="3.5" stroke-linecap="round"/>
<text x="0" y="0" font-size="26.8" transform="translate(197.85 552.2) scale(1 1.075)">YLP</text>
<text x="0" y="0" font-size="27.2" text-anchor="middle" transform="translate(319.6 615) scale(1 1.075)">633 nm</text>
<line x1="299.5" y1="628.3" x2="349.3" y2="628.3" stroke="#EDB7A5" stroke-width="2.2"/>
<polygon points="361.3,628.3 345.8,623.7 345.8,632.9" fill="#EDB7A5"/>
<text x="0" y="0" font-size="27.2" text-anchor="middle" transform="translate(448.8 690) scale(1 1.075)">750 nm</text>
<line x1="429.8" y1="703.8" x2="479" y2="703.8" stroke="#6CCAC0" stroke-width="2.2"/>
<polygon points="491,703.8 475.5,699.2 475.5,708.4" fill="#6CCAC0"/>
<line x1="223.16" y1="842.25" x2="223.16" y2="835.45" stroke="#000" stroke-width="3.5"/>
<line x1="335.07" y1="842.25" x2="335.07" y2="835.45" stroke="#000" stroke-width="3.5"/>
<line x1="446.99" y1="842.25" x2="446.99" y2="835.45" stroke="#000" stroke-width="3.5"/>
<line x1="167.21" y1="842.25" x2="167.21" y2="838.65" stroke="#000" stroke-width="3.5"/>
<line x1="279.12" y1="842.25" x2="279.12" y2="838.65" stroke="#000" stroke-width="3.5"/>
<line x1="391.03" y1="842.25" x2="391.03" y2="838.65" stroke="#000" stroke-width="3.5"/>
<line x1="502.94" y1="842.25" x2="502.94" y2="838.65" stroke="#000" stroke-width="3.5"/>
<line x1="111.25" y1="825.5" x2="118.05" y2="825.5" stroke="#000" stroke-width="3.5"/>
<line x1="111.25" y1="756.7" x2="118.05" y2="756.7" stroke="#000" stroke-width="3.5"/>
<line x1="111.25" y1="687.9" x2="118.05" y2="687.9" stroke="#000" stroke-width="3.5"/>
<line x1="111.25" y1="619.1" x2="118.05" y2="619.1" stroke="#000" stroke-width="3.5"/>
<line x1="111.25" y1="550.3" x2="118.05" y2="550.3" stroke="#000" stroke-width="3.5"/>
<line x1="111.25" y1="791.1" x2="114.85" y2="791.1" stroke="#000" stroke-width="3.5"/>
<line x1="111.25" y1="722.3" x2="114.85" y2="722.3" stroke="#000" stroke-width="3.5"/>
<line x1="111.25" y1="653.5" x2="114.85" y2="653.5" stroke="#000" stroke-width="3.5"/>
<line x1="111.25" y1="584.7" x2="114.85" y2="584.7" stroke="#000" stroke-width="3.5"/>
<line x1="111.25" y1="515.9" x2="114.85" y2="515.9" stroke="#000" stroke-width="3.5"/>
<rect x="111.25" y="481.75" width="447.65" height="360.5" fill="none" stroke="#000" stroke-width="3.5"/>
<text x="0" y="0" font-size="29.65" text-anchor="middle" transform="translate(111.25 873.95) scale(1 1.075)">400</text>
<text x="0" y="0" font-size="29.65" text-anchor="middle" transform="translate(223.16 873.95) scale(1 1.075)">500</text>
<text x="0" y="0" font-size="29.65" text-anchor="middle" transform="translate(335.07 873.95) scale(1 1.075)">600</text>
<text x="0" y="0" font-size="29.65" text-anchor="middle" transform="translate(446.99 873.95) scale(1 1.075)">700</text>
<text x="0" y="0" font-size="29.65" text-anchor="middle" transform="translate(558.9 873.95) scale(1 1.075)">800</text>
<text x="0" y="0" font-size="29.65" text-anchor="end" transform="translate(103.25 835.9) scale(1 1.075)">0</text>
<text x="0" y="0" font-size="29.65" text-anchor="end" transform="translate(103.25 767.1) scale(1 1.075)">20</text>
<text x="0" y="0" font-size="29.65" text-anchor="end" transform="translate(103.25 698.3) scale(1 1.075)">40</text>
<text x="0" y="0" font-size="29.65" text-anchor="end" transform="translate(103.25 629.5) scale(1 1.075)">60</text>
<text x="0" y="0" font-size="29.65" text-anchor="end" transform="translate(103.25 560.7) scale(1 1.075)">80</text>
<text x="0" y="0" font-size="29.65" text-anchor="end" transform="translate(103.25 491.9) scale(1 1.075)">100</text>
<text x="0" y="0" font-size="39" text-anchor="middle" transform="translate(334.68 915.25) scale(1 1.060)">Wavelength (nm)</text>
<text x="40.65" y="662.05" font-size="38.9" text-anchor="middle" transform="rotate(-90 40.65 662.05)">Transmission (%)</text>
<line x1="979.62" y1="842.25" x2="979.62" y2="481.75" stroke="#EDB7A5" stroke-width="2.7" stroke-dasharray="12.4 12.35"/>
<line x1="1110.62" y1="842.25" x2="1110.62" y2="481.75" stroke="#6CCAC0" stroke-width="2.7" stroke-dasharray="12.4 12.35"/>
<polyline points="718.75,752.57 719.32,752.71 719.88,752.86 720.45,753 721.01,753.14 721.58,753.29 722.14,753.43 722.71,753.58 723.27,753.73 723.84,753.87 724.41,754.02 724.97,754.17 725.54,754.32 726.1,754.47 726.67,754.61 727.23,754.76 727.8,754.91 728.36,755.07 728.93,755.22 729.5,755.37 730.06,755.52 730.63,755.67 731.19,755.82 731.76,755.98 732.32,756.13 732.89,756.28 733.45,756.44 734.02,756.59 734.58,756.74 735.15,756.9 735.72,757.05 736.28,757.2 736.85,757.36 737.41,757.51 737.98,757.66 738.54,757.81 739.11,757.97 739.67,758.12 740.24,758.27 740.81,758.43 741.37,758.58 741.94,758.74 742.5,758.9 743.07,759.06 743.63,759.22 744.2,759.38 744.76,759.55 745.33,759.71 745.9,759.88 746.46,760.05 747.03,760.22 747.59,760.4 748.16,760.58 748.72,760.76 749.29,760.94 749.85,761.13 750.42,761.32 750.99,761.51 751.55,761.72 752.12,761.92 752.68,762.14 753.25,762.36 753.81,762.58 754.38,762.81 754.94,763.04 755.51,763.27 756.08,763.51 756.64,763.75 757.21,764 757.77,764.24 758.34,764.49 758.9,764.75 759.47,765 760.03,765.25 760.6,765.51 761.16,765.76 761.73,766.02 762.3,766.28 762.86,766.54 763.43,766.8 763.99,767.06 764.56,767.33 765.12,767.6 765.69,767.88 766.25,768.15 766.82,768.43 767.39,768.71 767.95,768.99 768.52,769.28 769.08,769.56 769.65,769.85 770.21,770.14 770.78,770.42 771.34,770.71 771.91,771 772.48,771.28 773.04,771.57 773.61,771.85 774.17,772.13 774.74,772.42 775.3,772.7 775.87,772.97 776.43,773.24 777,773.51 777.57,773.78 778.13,774.05 778.7,774.32 779.26,774.6 779.83,774.88 780.39,775.16 780.96,775.45 781.52,775.74 782.09,776.04 782.66,776.36 783.22,776.68 783.79,777.02 784.35,777.37 784.92,777.72 785.48,778.09 786.05,778.46 786.61,778.84 787.18,779.22 787.75,779.61 788.31,780 788.88,780.39 789.44,780.77 790.01,781.16 790.57,781.54 791.14,781.92 791.7,782.31 792.27,782.71 792.83,783.13 793.4,783.57 793.97,784.05 794.53,784.61 795.1,785.24 795.66,785.92 796.23,786.63 796.23,786.63 796.79,784.86 797.35,783.21 797.91,781.73 798.47,780.41 799.03,779.18 799.6,778.08 800.16,777.16 800.72,776.32 801.28,775.53 801.84,774.75 802.4,774.01 802.96,773.28 803.52,772.57 804.08,771.87 804.65,771.18 805.21,770.5 805.77,769.81 806.33,769.12 806.89,768.44 807.45,767.77 808.01,767.09 808.57,766.43 809.13,765.76 809.7,765.1 810.26,764.44 810.82,763.78 811.38,763.13 811.94,762.47 812.5,761.81 813.06,761.16 813.62,760.51 814.19,759.86 814.75,759.22 815.31,758.58 815.87,757.93 816.43,757.29 816.99,756.64 817.55,755.98 818.11,755.32 818.67,754.65 819.24,753.97 819.8,753.3 820.36,752.62 820.92,751.94 821.48,751.25 822.04,750.56 822.6,749.86 823.16,749.14 823.73,748.42 824.29,747.68 824.85,746.93 825.41,746.17 825.97,745.38 826.53,744.57 827.09,743.74 827.65,742.9 828.21,742.04 828.78,741.17 829.34,740.3 829.9,739.41 830.46,738.53 831.02,737.63 831.58,736.74 832.14,735.83 832.7,734.91 833.27,733.99 833.83,733.05 834.39,732.11 834.95,731.15 835.51,730.18 836.07,729.2 836.63,728.21 837.19,727.2 837.75,726.18 838.32,725.13 838.88,724.06 839.44,722.97 840,721.87 840.56,720.75 841.12,719.63 841.68,718.51 842.24,717.39 842.81,716.27 843.37,715.17 843.93,714.07 844.49,712.99 845.05,711.9 845.61,710.83 846.17,709.75 846.73,708.67 847.29,707.59 847.86,706.5 848.42,705.41 848.98,704.31 849.54,703.21 850.1,702.09 850.66,700.95 851.22,699.8 851.78,698.63 852.35,697.45 852.91,696.27 853.47,695.09 854.03,693.91 854.59,692.74 855.15,691.58 855.71,690.43 856.27,689.31 856.83,688.2 857.4,687.1 857.96,686 858.52,684.91 859.08,683.82 859.64,682.75 860.2,681.7 860.76,680.66 861.32,679.65 861.88,678.65 862.45,677.69 863.01,676.74 863.57,675.8 864.13,674.87 864.69,673.95 865.25,673.05 865.81,672.17 866.37,671.3 866.94,670.47 867.5,669.66 868.06,668.89 868.62,668.15 869.18,667.45 869.74,666.76 870.3,666.09 870.86,665.43 871.42,664.8 871.99,664.17 872.55,663.57 873.11,662.98 873.67,662.41 874.23,661.85 874.79,661.31 875.35,660.79 875.91,660.28 876.48,659.79 877.04,659.3 877.6,658.83 878.16,658.36 878.72,657.89 879.28,657.43 879.84,656.97 880.4,656.5 880.96,656.02 881.53,655.54 882.09,655.06 882.65,654.58 883.21,654.1 883.77,653.62 884.33,653.14 884.89,652.66 885.45,652.18 886.02,651.69 886.58,651.2 887.14,650.71 887.7,650.21 888.26,649.69 888.82,649.16 889.38,648.61 889.94,648.07 890.5,647.52 891.07,646.98 891.63,646.45 892.19,645.94 892.75,645.45 893.31,644.98 893.87,644.54 894.43,644.09 894.99,643.66 895.56,643.23 896.12,642.82 896.68,642.42 897.24,642.03 897.8,641.66 898.36,641.31 898.92,640.99 899.48,640.69 900.04,640.42 900.61,640.16 901.17,639.92 901.73,639.7 902.29,639.53 902.85,639.41 903.41,639.34 903.97,639.31 904.53,639.32 905.09,639.35 905.66,639.42 906.22,639.53 906.78,639.71 907.34,639.93 907.9,640.18 908.46,640.46 909.02,640.74 909.58,641.07 910.15,641.49 910.71,641.99 911.27,642.56 911.83,643.17 912.39,643.8 912.95,644.5 913.51,645.28 914.07,646.14 914.63,647.05 915.2,648.01 915.76,648.99 916.32,649.98 916.88,651.01 917.44,652.13 918,653.29 918.56,654.45 919.12,655.59 919.69,656.64 920.25,657.59 920.81,658.52 921.37,659.4 921.93,660.21 922.49,660.89 923.05,661.39 923.61,661.76 924.17,662.06 924.74,662.29 925.3,662.42 925.86,662.44 926.42,662.29 926.98,661.98 927.54,661.56 928.1,661.08 928.66,660.39 929.23,659.36 929.79,658.15 930.35,656.87 930.91,655.4 931.47,653.74 932.03,651.95 932.59,650.08 933.15,648.07 933.71,645.87 934.28,643.52 934.84,641.08 935.4,638.56 935.96,635.9 936.52,633.14 937.08,630.3 937.64,627.44 938.2,624.5 938.77,621.49 939.33,618.47 939.89,615.49 940.45,612.59 941.01,609.72 941.57,606.87 942.13,604.05 942.69,601.25 943.25,598.41 943.82,595.58 944.38,592.84 944.94,590.25 945.5,587.83 946.06,585.51 946.62,583.31 947.18,581.27 947.74,579.4 948.31,577.65 948.87,575.99 949.43,574.4 949.99,572.86 950.55,571.36 951.11,569.89 951.67,568.47 952.23,567.13 952.79,565.89 953.36,564.7 953.92,563.57 954.48,562.52 955.04,561.58 955.6,560.72 956.16,559.92 956.72,559.16 957.28,558.43 957.84,557.72 958.41,557.02 958.97,556.35 959.53,555.69 960.09,555.05 960.65,554.43 961.21,553.84 961.77,553.25 962.33,552.66 962.9,552.04 963.46,551.42 964.02,550.79 964.58,550.16 965.14,549.53 965.7,548.89 966.26,548.25 966.82,547.6 967.38,546.97 967.95,546.34 968.51,545.75 969.07,545.17 969.63,544.6 970.19,544.03 970.75,543.49 971.31,542.98 971.87,542.52 972.44,542.13 973,541.79 973.56,541.49 974.12,541.21 974.68,540.95 975.24,540.71 975.8,540.49 976.36,540.29 976.92,540.11 977.49,539.94 978.05,539.78 978.61,539.62 979.17,539.45 979.73,539.25 980.29,539.02 980.85,538.75 981.41,538.47 981.98,538.22 982.54,538.02 983.1,537.9 983.66,537.83 984.22,537.8 984.78,537.8 985.34,537.83 985.9,537.88 986.46,537.93 987.03,538 987.59,538.09 988.15,538.21 988.71,538.34 989.27,538.48 989.83,538.64 990.39,538.81 990.95,538.99 991.52,539.23 992.08,539.52 992.64,539.87 993.2,540.26 993.76,540.67 994.32,541.11 994.88,541.55 995.44,542 996,542.52 996.57,543.08 997.13,543.69 997.69,544.33 998.25,544.99 998.81,545.67 999.37,546.39 999.93,547.16 1000.49,547.98 1001.05,548.84 1001.62,549.73 1002.18,550.66 1002.74,551.61 1003.3,552.64 1003.86,553.74 1004.42,554.9 1004.98,556.12 1005.54,557.38 1006.11,558.68 1006.67,560 1007.23,561.39 1007.79,562.88 1008.35,564.46 1008.91,566.14 1009.47,567.9 1010.03,569.76 1010.59,571.82 1011.16,574.18 1011.72,576.74 1012.28,579.44 1012.84,582.19 1013.4,585.11 1013.96,588.21 1014.52,591.46 1015.08,594.83 1015.65,598.36 1016.21,602.1 1016.77,606.04 1017.33,610.17 1017.89,614.47 1018.45,619.12 1019.01,624.1 1019.57,629.38 1020.13,634.93 1020.7,640.91 1021.26,647.25 1021.82,653.85 1022.38,660.59 1022.94,667.42 1023.5,674.48 1024.06,681.88 1024.62,689.73 1025.19,698.16 1025.75,708.09 1026.31,719.73 1026.87,733.03 1027.43,749.25 1027.99,765.74 1028.55,780.9 1029.11,795.01 1029.67,805.03 1030.24,811.6 1030.8,811.9 1031.36,808.45 1031.92,802.75 1032.48,794.52 1033.04,784.96 1033.6,773.42 1034.16,760.4 1034.73,745.93 1035.29,730.81 1035.85,715.83 1036.41,700.8 1036.97,685.56 1037.53,670.04 1038.09,653.87 1038.65,637.37 1039.21,621.4 1039.78,605.89 1040.34,590.55 1040.9,576.98 1041.46,566.38 1042.02,557.28 1042.58,550.47 1043.14,546.8 1043.7,543.99 1044.27,542.25 1044.83,542.29 1045.39,543.69 1045.95,545.99 1046.51,549.38 1047.07,554.81 1047.63,561.18 1048.19,568.43 1048.75,576.7 1049.32,585.48 1049.88,594.65 1050.44,604.38 1051,614.25 1051.56,623.95 1052.12,633.68 1052.68,643.35 1053.24,652.81 1053.8,662.13 1054.37,671.28 1054.93,680.03 1055.49,688.28 1056.05,696.24 1056.61,703.92 1057.17,711.31 1057.73,718.42 1058.29,725.32 1058.86,732.02 1059.42,738.47 1059.98,744.64 1060.54,750.58 1061.1,756.36 1061.66,761.91 1062.22,767.17 1062.78,772.12 1063.34,776.86 1063.91,781.42 1064.47,785.77 1065.03,789.91 1065.59,793.93 1066.15,797.86 1066.71,801.57 1067.27,804.93 1067.83,807.9 1068.4,810.73 1068.96,813.34 1069.52,815.65 1070.08,817.56 1070.64,819.21 1071.2,820.77 1071.76,822.12 1072.32,823.14 1072.88,823.82 1073.45,824.45 1074.01,824.99 1074.57,825.37 1075.13,825.51 1075.69,825.55 1076.25,825.56 1076.81,825.54 1077.37,825.48 1077.94,825.38 1078.5,825.23 1079.06,825.02 1079.62,824.78 1080.18,824.5 1080.74,824.2 1081.3,823.87 1081.86,823.52 1082.42,823.15 1082.99,822.76 1083.55,822.33 1084.11,821.87 1084.67,821.4 1085.23,820.93 1085.79,820.49 1086.35,820.07 1086.91,819.66 1087.48,819.25 1088.04,818.85 1088.6,818.46 1089.16,818.1 1089.72,817.76 1090.28,817.44 1090.84,817.13 1091.4,816.81 1091.96,816.52 1092.53,816.26 1093.09,816.05 1093.65,815.9 1094.21,815.81 1094.77,815.72 1095.33,815.65 1095.89,815.59 1096.45,815.54 1097.01,815.52 1097.58,815.53 1098.14,815.55 1098.7,815.59 1099.26,815.63 1099.82,815.69 1100.38,815.76 1100.94,815.84 1101.5,815.94 1102.07,816.06 1102.63,816.2 1103.19,816.36 1103.75,816.53 1104.31,816.7 1104.87,816.86 1105.43,817.01 1105.99,817.16 1106.55,817.32 1107.12,817.47 1107.68,817.63 1108.24,817.79 1108.8,817.97 1109.36,818.15 1109.92,818.35 1110.48,818.57 1111.04,818.81 1111.61,819.11 1112.17,819.46 1112.73,819.83 1113.29,820.22 1113.85,820.6 1114.41,820.97 1114.97,821.3 1115.53,821.61 1116.09,821.92 1116.66,822.22 1117.22,822.52 1117.78,822.81 1118.34,823.08 1118.9,823.34 1119.46,823.57 1120.02,823.78 1120.58,823.97 1121.15,824.15 1121.71,824.33 1122.27,824.5 1122.83,824.65 1123.39,824.79 1123.95,824.92 1124.51,825.04 1125.07,825.14 1125.63,825.23 1126.2,825.31 1126.76,825.38 1127.32,825.43 1127.88,825.48 1128.44,825.51 1129,825.52 1129.56,825.52 1130.12,825.49 1130.69,825.41 1131.25,825.28 1131.81,825.11 1132.37,824.91 1132.93,824.7 1133.49,824.5 1134.05,824.28 1134.61,824.04 1135.17,823.76 1135.74,823.46 1136.3,823.14 1136.86,822.8 1137.42,822.45 1137.98,822.06 1138.54,821.61 1139.1,821.11 1139.66,820.57 1140.23,819.99 1140.79,819.4 1141.35,818.78 1141.91,818.13 1142.47,817.41 1143.03,816.66 1143.59,815.87 1144.15,815.05 1144.71,814.22 1145.28,813.37 1145.84,812.49 1146.4,811.58 1146.96,810.64 1147.52,809.67 1148.08,808.69 1148.64,807.68 1149.2,806.66 1149.76,805.62 1150.33,804.57 1150.89,803.49 1151.45,802.38 1152.01,801.26 1152.57,800.11 1153.13,798.96 1153.69,797.78 1154.25,796.6 1154.82,795.42 1155.38,794.23 1155.94,793.02 1156.5,791.79 1157.06,790.55 1157.62,789.3 1158.18,788.04 1158.74,786.78 1159.3,785.52 1159.87,784.26 1160.43,782.99 1160.99,781.72 1161.55,780.44 1162.11,779.16 1162.67,777.87 1163.23,776.59 1163.79,775.31 1164.36,774.04 1164.92,772.78 1165.48,771.53 1166.04,770.3 1166.6,769.08" fill="none" stroke="#C3594B" stroke-width="3.5" stroke-linejoin="round" stroke-linecap="round" clip-path="url(#cl_718_481)"/>
<polyline points="718.75,811.4 719.31,811.33 719.87,811.27 720.43,811.2 720.99,811.14 721.55,811.07 722.11,811.01 722.67,810.95 723.23,810.88 723.79,810.82 724.36,810.76 724.92,810.7 725.48,810.64 726.04,810.58 726.6,810.52 727.16,810.47 727.72,810.41 728.28,810.35 728.84,810.3 729.4,810.24 729.96,810.19 730.52,810.14 731.08,810.09 731.64,810.03 732.2,809.98 732.76,809.93 733.32,809.88 733.88,809.83 734.44,809.78 735,809.73 735.57,809.68 736.13,809.63 736.69,809.59 737.25,809.54 737.81,809.5 738.37,809.45 738.93,809.41 739.49,809.37 740.05,809.33 740.61,809.29 741.17,809.25 741.73,809.21 742.29,809.17 742.85,809.13 743.41,809.1 743.97,809.06 744.53,809.02 745.09,808.98 745.65,808.95 746.22,808.91 746.78,808.88 747.34,808.85 747.9,808.81 748.46,808.78 749.02,808.75 749.58,808.72 750.14,808.69 750.7,808.67 751.26,808.64 751.82,808.62 752.38,808.59 752.94,808.57 753.5,808.55 754.06,808.52 754.62,808.5 755.18,808.48 755.74,808.46 756.3,808.44 756.86,808.42 757.43,808.4 757.99,808.38 758.55,808.36 759.11,808.35 759.67,808.34 760.23,808.33 760.79,808.32 761.35,808.31 761.91,808.3 762.47,808.3 763.03,808.3 763.59,808.3 764.15,808.31 764.71,808.33 765.27,808.34 765.83,808.36 766.39,808.38 766.95,808.41 767.51,808.44 768.08,808.46 768.64,808.49 769.2,808.52 769.76,808.56 770.32,808.59 770.88,808.62 771.44,808.65 772,808.68 772.56,808.72 773.12,808.76 773.68,808.81 774.24,808.86 774.8,808.91 775.36,808.96 775.92,809.02 776.48,809.08 777.04,809.15 777.6,809.21 778.16,809.28 778.72,809.35 779.29,809.42 779.85,809.49 780.41,809.56 780.97,809.64 781.53,809.73 782.09,809.82 782.65,809.93 783.21,810.03 783.77,810.15 784.33,810.26 784.89,810.38 785.45,810.49 786.01,810.61 786.57,810.73 787.13,810.84 787.69,810.97 788.25,811.1 788.81,811.24 789.37,811.39 789.94,811.55 790.5,811.72 791.06,811.9 791.62,812.09 792.18,812.29 792.74,812.52 793.3,812.85 793.86,813.27 794.42,813.74 794.98,814.23 795.54,814.84 796.1,815.47 796.66,815.93 797.22,816.26 797.78,816.53 798.34,816.75 798.9,816.93 799.46,817.09 800.02,817.25 800.58,817.39 801.15,817.51 801.71,817.6 802.27,817.68 802.83,817.75 803.39,817.82 803.95,817.87 804.51,817.91 805.07,817.93 805.63,817.94 806.19,817.94 806.75,817.93 807.31,817.92 807.87,817.9 808.43,817.87 808.99,817.83 809.55,817.79 810.11,817.75 810.67,817.69 811.23,817.62 811.8,817.53 812.36,817.44 812.92,817.33 813.48,817.22 814.04,817.11 814.6,816.99 815.16,816.88 815.72,816.75 816.28,816.62 816.84,816.48 817.4,816.33 817.96,816.17 818.52,816.01 819.08,815.84 819.64,815.66 820.2,815.48 820.76,815.29 821.32,815.09 821.88,814.87 822.44,814.63 823.01,814.39 823.57,814.14 824.13,813.88 824.69,813.61 825.25,813.34 825.81,813.05 826.37,812.75 826.93,812.44 827.49,812.11 828.05,811.77 828.61,811.42 829.17,811.07 829.73,810.7 830.29,810.33 830.85,809.96 831.41,809.58 831.97,809.19 832.53,808.79 833.09,808.38 833.66,807.95 834.22,807.52 834.78,807.07 835.34,806.62 835.9,806.15 836.46,805.69 837.02,805.21 837.58,804.73 838.14,804.24 838.7,803.74 839.26,803.22 839.82,802.69 840.38,802.16 840.94,801.62 841.5,801.07 842.06,800.52 842.62,799.96 843.18,799.41 843.74,798.86 844.3,798.3 844.87,797.74 845.43,797.18 845.99,796.62 846.55,796.05 847.11,795.47 847.67,794.89 848.23,794.31 848.79,793.73 849.35,793.14 849.91,792.54 850.47,791.94 851.03,791.33 851.59,790.71 852.15,790.08 852.71,789.46 853.27,788.83 853.83,788.19 854.39,787.56 854.95,786.93 855.52,786.3 856.08,785.68 856.64,785.06 857.2,784.44 857.76,783.81 858.32,783.18 858.88,782.56 859.44,781.93 860,781.31 860.56,780.71 861.12,780.11 861.68,779.53 862.24,778.98 862.8,778.44 863.36,777.92 863.92,777.42 864.48,776.94 865.04,776.47 865.6,776.01 866.16,775.57 866.73,775.13 867.29,774.69 867.85,774.25 868.41,773.83 868.97,773.43 869.53,773.08 870.09,772.77 870.65,772.48 871.21,772.21 871.77,771.96 872.33,771.75 872.89,771.58 873.45,771.45 874.01,771.35 874.57,771.26 875.13,771.19 875.69,771.15 876.25,771.15 876.81,771.18 877.38,771.24 877.94,771.32 878.5,771.41 879.06,771.52 879.62,771.65 880.18,771.78 880.74,771.93 881.3,772.08 881.86,772.24 882.42,772.43 882.98,772.65 883.54,772.89 884.1,773.14 884.66,773.4 885.22,773.67 885.78,773.92 886.34,774.17 886.9,774.39 887.46,774.58 888.02,774.76 888.59,774.94 889.15,775.1 889.71,775.27 890.27,775.42 890.83,775.56 891.39,775.69 891.95,775.81 892.51,775.91 893.07,775.99 893.63,776.07 894.19,776.13 894.75,776.19 895.31,776.24 895.87,776.27 896.43,776.3 896.99,776.31 897.55,776.31 898.11,776.28 898.67,776.21 899.24,776.11 899.8,775.99 900.36,775.85 900.92,775.71 901.48,775.56 902.04,775.35 902.6,775.09 903.16,774.79 903.72,774.45 904.28,774.08 904.84,773.7 905.4,773.3 905.96,772.83 906.52,772.3 907.08,771.73 907.64,771.12 908.2,770.48 908.76,769.84 909.32,769.14 909.88,768.39 910.45,767.62 911.01,766.84 911.57,766.07 912.13,765.34 912.69,764.67 913.25,764 913.81,763.33 914.37,762.68 914.93,762.05 915.49,761.45 916.05,760.9 916.61,760.39 917.17,759.95 917.73,759.51 918.29,759.09 918.85,758.69 919.41,758.33 919.97,758.01 920.53,757.74 921.1,757.53 921.66,757.4 922.22,757.37 922.78,757.46 923.34,757.66 923.9,757.92 924.46,758.24 925.02,758.59 925.58,759.08 926.14,759.69 926.7,760.38 927.26,761.11 927.82,761.88 928.38,762.7 928.94,763.6 929.5,764.54 930.06,765.52 930.62,766.52 931.18,767.52 931.74,768.54 932.31,769.62 932.87,770.76 933.43,771.9 933.99,773.02 934.55,774.06 935.11,775.01 935.67,775.88 936.23,776.72 936.79,777.5 937.35,778.2 937.91,778.8 938.47,779.29 939.03,779.71 939.59,780.1 940.15,780.47 940.71,780.82 941.27,781.16 941.83,781.48 942.39,781.78 942.96,782.08 943.52,782.37 944.08,782.68 944.64,783.01 945.2,783.38 945.76,783.78 946.32,784.22 946.88,784.7 947.44,785.21 948,785.76 948.56,786.34 949.12,786.96 949.68,787.69 950.24,788.51 950.8,789.42 951.36,790.38 951.92,791.36 952.48,792.41 953.04,793.53 953.61,794.71 954.17,795.91 954.73,797.09 955.29,798.24 955.85,799.38 956.41,800.52 956.97,801.66 957.53,802.79 958.09,803.92 958.65,805.03 959.21,806.15 959.77,807.3 960.33,808.46 960.89,809.6 961.45,810.68 962.01,811.68 962.57,812.55 963.13,813.34 963.69,814.1 964.25,814.79 964.82,815.42 965.38,815.96 965.94,816.4 966.5,816.74 967.06,817.04 967.62,817.29 968.18,817.48 968.74,817.6 969.3,817.61 969.86,817.51 970.42,817.23 970.98,816.81 971.54,816.31 972.1,815.76 972.66,815.19 973.22,814.48 973.78,813.63 974.34,812.67 974.9,811.64 975.47,810.48 976.03,809.09 976.59,807.53 977.15,805.9 977.71,804.24 978.27,802.48 978.83,800.58 979.39,798.54 979.95,796.31 980.51,793.83 981.07,791.16 981.63,788.36 982.19,785.51 982.75,782.63 983.31,779.66 983.87,776.59 984.43,773.41 984.99,770.13 985.55,766.7 986.11,763.11 986.68,759.44 987.24,755.75 987.8,752.12 988.36,748.5 988.92,744.87 989.48,741.18 990.04,737.41 990.6,733.51 991.16,729.48 991.72,725.43 992.28,721.42 992.84,717.51 993.4,713.62 993.96,709.78 994.52,705.99 995.08,702.29 995.64,698.66 996.2,695.1 996.76,691.6 997.33,688.15 997.89,684.74 998.45,681.32 999.01,677.97 999.57,674.75 1000.13,671.76 1000.69,668.9 1001.25,666.13 1001.81,663.44 1002.37,660.84 1002.93,658.31 1003.49,655.87 1004.05,653.51 1004.61,651.2 1005.17,648.95 1005.73,646.75 1006.29,644.6 1006.85,642.5 1007.41,640.45 1007.97,638.45 1008.54,636.47 1009.1,634.52 1009.66,632.61 1010.22,630.76 1010.78,628.98 1011.34,627.27 1011.9,625.6 1012.46,623.96 1013.02,622.36 1013.58,620.82 1014.14,619.38 1014.7,618.04 1015.26,616.83 1015.82,615.68 1016.38,614.57 1016.94,613.52 1017.5,612.54 1018.06,611.61 1018.62,610.76 1019.19,609.98 1019.75,609.2 1020.31,608.46 1020.87,607.75 1021.43,607.09 1021.99,606.5 1022.55,605.99 1023.11,605.52 1023.67,605.06 1024.23,604.65 1024.79,604.3 1025.35,604.03 1025.91,603.85 1026.47,603.71 1027.03,603.63 1027.59,603.59 1028.15,603.61 1028.71,603.71 1029.27,603.88 1029.83,604.12 1030.4,604.41 1030.96,604.75 1031.52,605.12 1032.08,605.51 1032.64,605.91 1033.2,606.33 1033.76,606.86 1034.32,607.49 1034.88,608.2 1035.44,608.98 1036,609.81 1036.56,610.68 1037.12,611.59 1037.68,612.52 1038.24,613.57 1038.8,614.76 1039.36,616.06 1039.92,617.45 1040.48,618.91 1041.05,620.4 1041.61,621.94 1042.17,623.58 1042.73,625.32 1043.29,627.12 1043.85,628.97 1044.41,630.85 1044.97,632.73 1045.53,634.61 1046.09,636.54 1046.65,638.5 1047.21,640.49 1047.77,642.51 1048.33,644.56 1048.89,646.63 1049.45,648.74 1050.01,650.88 1050.57,653.06 1051.13,655.27 1051.69,657.52 1052.26,659.79 1052.82,662.11 1053.38,664.47 1053.94,666.87 1054.5,669.3 1055.06,671.77 1055.62,674.26 1056.18,676.77 1056.74,679.31 1057.3,681.89 1057.86,684.49 1058.42,687.13 1058.98,689.8 1059.54,692.49 1060.1,695.22 1060.66,698.01 1061.22,700.85 1061.78,703.73 1062.34,706.62 1062.91,709.5 1063.47,712.36 1064.03,715.18 1064.59,717.97 1065.15,720.75 1065.71,723.53 1066.27,726.32 1066.83,729.13 1067.39,731.98 1067.95,734.9 1068.51,737.88 1069.07,740.9 1069.63,743.94 1070.19,746.94 1070.75,749.89 1071.31,752.76 1071.87,755.57 1072.43,758.36 1072.99,761.11 1073.55,763.8 1074.12,766.42 1074.68,768.97 1075.24,771.42 1075.8,773.82 1076.36,776.16 1076.92,778.44 1077.48,780.66 1078.04,782.8 1078.6,784.86 1079.16,786.85 1079.72,788.81 1080.28,790.73 1080.84,792.59 1081.4,794.38 1081.96,796.08 1082.52,797.69 1083.08,799.21 1083.64,800.68 1084.2,802.09 1084.77,803.45 1085.33,804.76 1085.89,806 1086.45,807.18 1087.01,808.34 1087.57,809.48 1088.13,810.59 1088.69,811.64 1089.25,812.62 1089.81,813.5 1090.37,814.29 1090.93,815.04 1091.49,815.74 1092.05,816.41 1092.61,817.04 1093.17,817.63 1093.73,818.19 1094.29,818.72 1094.85,819.25 1095.41,819.76 1095.98,820.25 1096.54,820.7 1097.1,821.1 1097.66,821.45 1098.22,821.77 1098.78,822.08 1099.34,822.37 1099.9,822.63 1100.46,822.86 1101.02,823.07 1101.58,823.24 1102.14,823.42 1102.7,823.58 1103.26,823.74 1103.82,823.88 1104.38,824.01 1104.94,824.11 1105.5,824.2 1106.06,824.3 1106.63,824.39 1107.19,824.48 1107.75,824.56 1108.31,824.64 1108.87,824.7 1109.43,824.76 1109.99,824.79 1110.55,824.81 1111.11,824.81 1111.67,824.81 1112.23,824.8 1112.79,824.78 1113.35,824.75 1113.91,824.72 1114.47,824.69 1115.03,824.65 1115.59,824.6 1116.15,824.54 1116.71,824.49 1117.27,824.42 1117.84,824.36 1118.4,824.3 1118.96,824.24 1119.52,824.18 1120.08,824.12 1120.64,824.06 1121.2,824.01 1121.76,823.95 1122.32,823.89 1122.88,823.83 1123.44,823.78 1124,823.72 1124.56,823.67 1125.12,823.62 1125.68,823.57 1126.24,823.52 1126.8,823.48 1127.36,823.44 1127.92,823.4 1128.49,823.37 1129.05,823.33 1129.61,823.3 1130.17,823.26 1130.73,823.23 1131.29,823.2 1131.85,823.18 1132.41,823.15 1132.97,823.13 1133.53,823.12 1134.09,823.1 1134.65,823.09 1135.21,823.09 1135.77,823.09 1136.33,823.1 1136.89,823.1 1137.45,823.11 1138.01,823.12 1138.57,823.14 1139.13,823.16 1139.7,823.17 1140.26,823.19 1140.82,823.22 1141.38,823.24 1141.94,823.26 1142.5,823.29 1143.06,823.32 1143.62,823.35 1144.18,823.38 1144.74,823.41 1145.3,823.45 1145.86,823.49 1146.42,823.53 1146.98,823.57 1147.54,823.61 1148.1,823.65 1148.66,823.69 1149.22,823.74 1149.78,823.78 1150.35,823.82 1150.91,823.87 1151.47,823.92 1152.03,823.96 1152.59,824.01 1153.15,824.07 1153.71,824.12 1154.27,824.17 1154.83,824.22 1155.39,824.27 1155.95,824.32 1156.51,824.37 1157.07,824.42 1157.63,824.47 1158.19,824.51 1158.75,824.56 1159.31,824.6 1159.87,824.65 1160.43,824.69 1160.99,824.74 1161.56,824.78 1162.12,824.82 1162.68,824.87 1163.24,824.91 1163.8,824.95 1164.36,824.99 1164.92,825.04 1165.48,825.08 1166.04,825.12 1166.6,825.16" fill="none" stroke="#2E7187" stroke-width="3.5" stroke-linejoin="round" stroke-linecap="round" clip-path="url(#cl_718_481)"/>
<ellipse cx="979.62" cy="539.64" rx="5.6" ry="5.99" fill="url(#g_salmon)"/>
<ellipse cx="979.62" cy="797.64" rx="5.6" ry="5.99" fill="url(#g_salmon)"/>
<ellipse cx="1110.62" cy="818.62" rx="5.6" ry="5.99" fill="url(#g_turq)"/>
<ellipse cx="1110.62" cy="824.81" rx="5.6" ry="5.99" fill="url(#g_turq)"/>
<line x1="736.85" y1="508.9" x2="798.85" y2="508.9" stroke="#C3594B" stroke-width="3.5" stroke-linecap="round"/>
<text x="0" y="0" font-size="26.8" transform="translate(805.85 518.7) scale(1 1.075)">XLP</text>
<line x1="736.85" y1="542.4" x2="798.85" y2="542.4" stroke="#2E7187" stroke-width="3.5" stroke-linecap="round"/>
<text x="0" y="0" font-size="26.8" transform="translate(805.85 552.2) scale(1 1.075)">YLP</text>
<text x="0" y="0" font-size="27.2" text-anchor="middle" transform="translate(1055.6 520.2) scale(1 1.075)">750 nm</text>
<line x1="1035.5" y1="533" x2="1085.5" y2="533" stroke="#6CCAC0" stroke-width="2.2"/>
<polygon points="1097.5,533 1082,528.4 1082,537.6" fill="#6CCAC0"/>
<text x="0" y="0" font-size="27.2" text-anchor="middle" transform="translate(925.4 722.7) scale(1 1.075)">633 nm</text>
<line x1="904.3" y1="733" x2="953.5" y2="733" stroke="#EDB7A5" stroke-width="2.2"/>
<polygon points="965.5,733 950,728.4 950,737.6" fill="#EDB7A5"/>
<line x1="830.71" y1="842.25" x2="830.71" y2="835.45" stroke="#000" stroke-width="3.5"/>
<line x1="942.67" y1="842.25" x2="942.67" y2="835.45" stroke="#000" stroke-width="3.5"/>
<line x1="1054.64" y1="842.25" x2="1054.64" y2="835.45" stroke="#000" stroke-width="3.5"/>
<line x1="774.73" y1="842.25" x2="774.73" y2="838.65" stroke="#000" stroke-width="3.5"/>
<line x1="886.69" y1="842.25" x2="886.69" y2="838.65" stroke="#000" stroke-width="3.5"/>
<line x1="998.66" y1="842.25" x2="998.66" y2="838.65" stroke="#000" stroke-width="3.5"/>
<line x1="1110.62" y1="842.25" x2="1110.62" y2="838.65" stroke="#000" stroke-width="3.5"/>
<line x1="718.75" y1="825.5" x2="725.55" y2="825.5" stroke="#000" stroke-width="3.5"/>
<line x1="718.75" y1="756.7" x2="725.55" y2="756.7" stroke="#000" stroke-width="3.5"/>
<line x1="718.75" y1="687.9" x2="725.55" y2="687.9" stroke="#000" stroke-width="3.5"/>
<line x1="718.75" y1="619.1" x2="725.55" y2="619.1" stroke="#000" stroke-width="3.5"/>
<line x1="718.75" y1="550.3" x2="725.55" y2="550.3" stroke="#000" stroke-width="3.5"/>
<line x1="718.75" y1="791.1" x2="722.35" y2="791.1" stroke="#000" stroke-width="3.5"/>
<line x1="718.75" y1="722.3" x2="722.35" y2="722.3" stroke="#000" stroke-width="3.5"/>
<line x1="718.75" y1="653.5" x2="722.35" y2="653.5" stroke="#000" stroke-width="3.5"/>
<line x1="718.75" y1="584.7" x2="722.35" y2="584.7" stroke="#000" stroke-width="3.5"/>
<line x1="718.75" y1="515.9" x2="722.35" y2="515.9" stroke="#000" stroke-width="3.5"/>
<rect x="718.75" y="481.75" width="447.85" height="360.5" fill="none" stroke="#000" stroke-width="3.5"/>
<text x="0" y="0" font-size="29.65" text-anchor="middle" transform="translate(718.75 873.95) scale(1 1.075)">400</text>
<text x="0" y="0" font-size="29.65" text-anchor="middle" transform="translate(830.71 873.95) scale(1 1.075)">500</text>
<text x="0" y="0" font-size="29.65" text-anchor="middle" transform="translate(942.67 873.95) scale(1 1.075)">600</text>
<text x="0" y="0" font-size="29.65" text-anchor="middle" transform="translate(1054.64 873.95) scale(1 1.075)">700</text>
<text x="0" y="0" font-size="29.65" text-anchor="middle" transform="translate(1166.6 873.95) scale(1 1.075)">800</text>
<text x="0" y="0" font-size="29.65" text-anchor="end" transform="translate(710.75 835.9) scale(1 1.075)">0</text>
<text x="0" y="0" font-size="29.65" text-anchor="end" transform="translate(710.75 767.1) scale(1 1.075)">20</text>
<text x="0" y="0" font-size="29.65" text-anchor="end" transform="translate(710.75 698.3) scale(1 1.075)">40</text>
<text x="0" y="0" font-size="29.65" text-anchor="end" transform="translate(710.75 629.5) scale(1 1.075)">60</text>
<text x="0" y="0" font-size="29.65" text-anchor="end" transform="translate(710.75 560.7) scale(1 1.075)">80</text>
<text x="0" y="0" font-size="29.65" text-anchor="end" transform="translate(710.75 491.9) scale(1 1.075)">100</text>
<text x="0" y="0" font-size="39" text-anchor="middle" transform="translate(942.27 915.25) scale(1 1.060)">Wavelength (nm)</text>
<text x="648.15" y="662.05" font-size="38.9" text-anchor="middle" transform="rotate(-90 648.15 662.05)">Transmission (%)</text>
<polyline points="1326.75,775 1339.19,760.55 1351.62,735.05 1364.06,709.98 1376.5,678.95 1388.94,652.6 1401.38,623.7 1413.81,591.83 1426.25,579.5 1438.69,562.5 1451.12,550.6 1463.56,551.88 1476,560.8 1488.44,578.65 1500.88,595.65 1513.31,622.85 1525.75,650.05 1538.19,685.75 1550.62,705.73 1563.06,726.12 1575.5,753.75 1587.94,769.48 1600.38,783.5 1612.81,780.1 1625.25,794.98 1637.69,792.42 1650.12,792.85 1662.56,778.83 1675,792 1687.44,792.85 1699.88,799.65 1712.31,788.17 1724.75,801.35 1737.19,799.01 1749.62,797.52 1762.06,783.5 1774.5,775.42" fill="none" stroke="#C3594B" stroke-width="3.5" stroke-linejoin="round" stroke-linecap="round" clip-path="url(#cl_1326_481)"/>
<polyline points="1326.75,558.25 1339.19,550.6 1351.62,548.9 1364.06,554.85 1376.5,571.85 1388.94,590.55 1401.38,613.92 1413.81,648.77 1426.25,668.75 1438.69,697.65 1451.12,732.08 1463.56,746.95 1476,771.17 1488.44,775 1500.88,793.27 1513.31,800.5 1525.75,807.73 1538.19,806.02 1550.62,817.92 1563.06,806.02 1575.5,809.42 1587.94,803.05 1600.38,801.77 1612.81,787.75 1625.25,795.4 1637.69,785.2 1650.12,778.83 1662.56,755.02 1675,742.7 1687.44,729.1 1699.88,697.65 1712.31,666.2 1724.75,647.08 1737.19,615.2 1749.62,591.4 1762.06,567.17 1774.5,559.1" fill="none" stroke="#2E7187" stroke-width="3.5" stroke-linejoin="round" stroke-linecap="round" clip-path="url(#cl_1326_481)"/>
<line x1="1564.2" y1="508.7" x2="1626.2" y2="508.7" stroke="#C3594B" stroke-width="3.5" stroke-linecap="round"/>
<text x="0" y="0" font-size="26.8" transform="translate(1633.2 518.5) scale(1 1.075)">Channel 1</text>
<line x1="1564.2" y1="542.2" x2="1626.2" y2="542.2" stroke="#2E7187" stroke-width="3.5" stroke-linecap="round"/>
<text x="0" y="0" font-size="26.8" transform="translate(1633.2 552) scale(1 1.075)">Channel 2</text>
<text x="0" y="0" font-size="29.3" transform="translate(1340.35 516.8) scale(1 1.000)">Sim.</text>
<text x="0" y="0" font-size="32.4" transform="translate(1541 665.8) scale(1 1.030)">PT</text>
<text x="0" y="0" font-size="29.3" font-style="italic" transform="translate(1341.35 829.8) scale(1 1.000)">λ = 633 nm</text>
<line x1="1401.38" y1="842.25" x2="1401.38" y2="835.45" stroke="#000" stroke-width="3.5"/>
<line x1="1476" y1="842.25" x2="1476" y2="835.45" stroke="#000" stroke-width="3.5"/>
<line x1="1550.62" y1="842.25" x2="1550.62" y2="835.45" stroke="#000" stroke-width="3.5"/>
<line x1="1625.25" y1="842.25" x2="1625.25" y2="835.45" stroke="#000" stroke-width="3.5"/>
<line x1="1699.88" y1="842.25" x2="1699.88" y2="835.45" stroke="#000" stroke-width="3.5"/>
<line x1="1364.06" y1="842.25" x2="1364.06" y2="838.65" stroke="#000" stroke-width="3.5"/>
<line x1="1438.69" y1="842.25" x2="1438.69" y2="838.65" stroke="#000" stroke-width="3.5"/>
<line x1="1513.31" y1="842.25" x2="1513.31" y2="838.65" stroke="#000" stroke-width="3.5"/>
<line x1="1587.94" y1="842.25" x2="1587.94" y2="838.65" stroke="#000" stroke-width="3.5"/>
<line x1="1662.56" y1="842.25" x2="1662.56" y2="838.65" stroke="#000" stroke-width="3.5"/>
<line x1="1737.19" y1="842.25" x2="1737.19" y2="838.65" stroke="#000" stroke-width="3.5"/>
<line x1="1326.75" y1="821.75" x2="1333.55" y2="821.75" stroke="#000" stroke-width="3.5"/>
<line x1="1326.75" y1="736.75" x2="1333.55" y2="736.75" stroke="#000" stroke-width="3.5"/>
<line x1="1326.75" y1="651.75" x2="1333.55" y2="651.75" stroke="#000" stroke-width="3.5"/>
<line x1="1326.75" y1="566.75" x2="1333.55" y2="566.75" stroke="#000" stroke-width="3.5"/>
<line x1="1326.75" y1="779.25" x2="1330.35" y2="779.25" stroke="#000" stroke-width="3.5"/>
<line x1="1326.75" y1="694.25" x2="1330.35" y2="694.25" stroke="#000" stroke-width="3.5"/>
<line x1="1326.75" y1="609.25" x2="1330.35" y2="609.25" stroke="#000" stroke-width="3.5"/>
<line x1="1326.75" y1="524.25" x2="1330.35" y2="524.25" stroke="#000" stroke-width="3.5"/>
<rect x="1326.75" y="481.75" width="447.75" height="360.5" fill="none" stroke="#000" stroke-width="3.5"/>
<text x="0" y="0" font-size="29.65" text-anchor="middle" transform="translate(1326.75 873.95) scale(1 1.075)">0</text>
<text x="0" y="0" font-size="29.65" text-anchor="middle" transform="translate(1401.38 873.95) scale(1 1.075)">30</text>
<text x="0" y="0" font-size="29.65" text-anchor="middle" transform="translate(1476 873.95) scale(1 1.075)">60</text>
<text x="0" y="0" font-size="29.65" text-anchor="middle" transform="translate(1550.62 873.95) scale(1 1.075)">90</text>
<text x="0" y="0" font-size="29.65" text-anchor="middle" transform="translate(1625.25 873.95) scale(1 1.075)">120</text>
<text x="0" y="0" font-size="29.65" text-anchor="middle" transform="translate(1699.88 873.95) scale(1 1.075)">150</text>
<text x="0" y="0" font-size="29.65" text-anchor="middle" transform="translate(1774.5 873.95) scale(1 1.075)">180</text>
<text x="0" y="0" font-size="29.65" text-anchor="end" transform="translate(1318.75 832.15) scale(1 1.075)">0</text>
<text x="0" y="0" font-size="29.65" text-anchor="end" transform="translate(1318.75 747.15) scale(1 1.075)">20</text>
<text x="0" y="0" font-size="29.65" text-anchor="end" transform="translate(1318.75 662.15) scale(1 1.075)">40</text>
<text x="0" y="0" font-size="29.65" text-anchor="end" transform="translate(1318.75 577.15) scale(1 1.075)">60</text>
<text x="0" y="0" font-size="29.65" text-anchor="end" transform="translate(1318.75 492.15) scale(1 1.075)">80</text>
<text x="0" y="0" font-size="38.4" text-anchor="middle" transform="translate(1549.92 915.25) scale(1 1.070)">Orientation angle α (°)</text>
<text x="1256.15" y="662.05" font-size="38.9" text-anchor="middle" transform="rotate(-90 1256.15 662.05)">Transmission (%)</text>
<polyline points="111.25,1288.45 123.68,1277.83 136.12,1256.15 148.55,1242.12 160.99,1215.35 173.42,1189 185.86,1163.93 198.29,1138.43 210.73,1110.38 223.16,1093.38 235.6,1083.18 248.03,1087 260.47,1095.5 272.9,1111.65 285.34,1133.75 297.77,1157.55 310.21,1176.25 322.64,1208.12 335.07,1228.95 347.51,1246.38 359.94,1271.03 372.38,1282.5 384.81,1296.1 397.25,1303.33 409.68,1305.88 422.12,1310.55 434.55,1305.88 446.99,1303.75 459.42,1302.9 471.86,1308.85 484.29,1306.3 496.73,1310.55 509.16,1311.83 521.6,1310.12 534.03,1306.3 546.47,1296.53 558.9,1288.88" fill="none" stroke="#C3594B" stroke-width="3.5" stroke-linejoin="round" stroke-linecap="round" clip-path="url(#cl_111_978)"/>
<polyline points="111.25,1079.35 123.68,1071.28 136.12,1070.85 148.55,1075.95 160.99,1088.28 173.42,1108.25 185.86,1130.35 198.29,1160.1 210.73,1195.38 223.16,1228.95 235.6,1257.85 248.03,1283.35 260.47,1293.55 272.9,1303.33 285.34,1309.28 297.77,1310.98 310.21,1309.28 322.64,1304.6 335.07,1302.9 347.51,1303.33 359.94,1306.3 372.38,1308.42 384.81,1310.55 397.25,1309.7 409.68,1307.15 422.12,1308 434.55,1298.65 446.99,1285.05 459.42,1265.08 471.86,1239.15 484.29,1208.98 496.73,1182.62 509.16,1156.7 521.6,1129.08 534.03,1114.2 546.47,1088.7 558.9,1080.2" fill="none" stroke="#2E7187" stroke-width="3.5" stroke-linejoin="round" stroke-linecap="round" clip-path="url(#cl_111_978)"/>
<line x1="348.1" y1="1005.5" x2="410.1" y2="1005.5" stroke="#C3594B" stroke-width="3.5" stroke-linecap="round"/>
<text x="0" y="0" font-size="26.8" transform="translate(417.1 1015.3) scale(1 1.075)">Channel 1</text>
<line x1="348.1" y1="1039" x2="410.1" y2="1039" stroke="#2E7187" stroke-width="3.5" stroke-linecap="round"/>
<text x="0" y="0" font-size="26.8" transform="translate(417.1 1048.8) scale(1 1.075)">Channel 2</text>
<text x="0" y="0" font-size="29.3" transform="translate(124.65 1013.4) scale(1 1.000)">Sim.</text>
<text x="0" y="0" font-size="32.4" transform="translate(316.8 1165.8) scale(1 1.030)">PR</text>
<text x="0" y="0" font-size="29.3" font-style="italic" transform="translate(125.45 1325.8) scale(1 1.000)">λ = 633 nm</text>
<line x1="185.86" y1="1338.9" x2="185.86" y2="1332.1" stroke="#000" stroke-width="3.5"/>
<line x1="260.47" y1="1338.9" x2="260.47" y2="1332.1" stroke="#000" stroke-width="3.5"/>
<line x1="335.07" y1="1338.9" x2="335.07" y2="1332.1" stroke="#000" stroke-width="3.5"/>
<line x1="409.68" y1="1338.9" x2="409.68" y2="1332.1" stroke="#000" stroke-width="3.5"/>
<line x1="484.29" y1="1338.9" x2="484.29" y2="1332.1" stroke="#000" stroke-width="3.5"/>
<line x1="148.55" y1="1338.9" x2="148.55" y2="1335.3" stroke="#000" stroke-width="3.5"/>
<line x1="223.16" y1="1338.9" x2="223.16" y2="1335.3" stroke="#000" stroke-width="3.5"/>
<line x1="297.77" y1="1338.9" x2="297.77" y2="1335.3" stroke="#000" stroke-width="3.5"/>
<line x1="372.38" y1="1338.9" x2="372.38" y2="1335.3" stroke="#000" stroke-width="3.5"/>
<line x1="446.99" y1="1338.9" x2="446.99" y2="1335.3" stroke="#000" stroke-width="3.5"/>
<line x1="521.6" y1="1338.9" x2="521.6" y2="1335.3" stroke="#000" stroke-width="3.5"/>
<line x1="111.25" y1="1318.2" x2="118.05" y2="1318.2" stroke="#000" stroke-width="3.5"/>
<line x1="111.25" y1="1233.2" x2="118.05" y2="1233.2" stroke="#000" stroke-width="3.5"/>
<line x1="111.25" y1="1148.2" x2="118.05" y2="1148.2" stroke="#000" stroke-width="3.5"/>
<line x1="111.25" y1="1063.2" x2="118.05" y2="1063.2" stroke="#000" stroke-width="3.5"/>
<line x1="111.25" y1="1275.7" x2="114.85" y2="1275.7" stroke="#000" stroke-width="3.5"/>
<line x1="111.25" y1="1190.7" x2="114.85" y2="1190.7" stroke="#000" stroke-width="3.5"/>
<line x1="111.25" y1="1105.7" x2="114.85" y2="1105.7" stroke="#000" stroke-width="3.5"/>
<line x1="111.25" y1="1020.7" x2="114.85" y2="1020.7" stroke="#000" stroke-width="3.5"/>
<rect x="111.25" y="978.75" width="447.65" height="360.15" fill="none" stroke="#000" stroke-width="3.5"/>
<text x="0" y="0" font-size="29.65" text-anchor="middle" transform="translate(111.25 1370.6) scale(1 1.075)">0</text>
<text x="0" y="0" font-size="29.65" text-anchor="middle" transform="translate(185.86 1370.6) scale(1 1.075)">30</text>
<text x="0" y="0" font-size="29.65" text-anchor="middle" transform="translate(260.47 1370.6) scale(1 1.075)">60</text>
<text x="0" y="0" font-size="29.65" text-anchor="middle" transform="translate(335.07 1370.6) scale(1 1.075)">90</text>
<text x="0" y="0" font-size="29.65" text-anchor="middle" transform="translate(409.68 1370.6) scale(1 1.075)">120</text>
<text x="0" y="0" font-size="29.65" text-anchor="middle" transform="translate(484.29 1370.6) scale(1 1.075)">150</text>
<text x="0" y="0" font-size="29.65" text-anchor="middle" transform="translate(558.9 1370.6) scale(1 1.075)">180</text>
<text x="0" y="0" font-size="29.65" text-anchor="end" transform="translate(103.25 1328.6) scale(1 1.075)">0</text>
<text x="0" y="0" font-size="29.65" text-anchor="end" transform="translate(103.25 1243.6) scale(1 1.075)">20</text>
<text x="0" y="0" font-size="29.65" text-anchor="end" transform="translate(103.25 1158.6) scale(1 1.075)">40</text>
<text x="0" y="0" font-size="29.65" text-anchor="end" transform="translate(103.25 1073.6) scale(1 1.075)">60</text>
<text x="0" y="0" font-size="29.65" text-anchor="end" transform="translate(103.25 988.6) scale(1 1.075)">80</text>
<text x="0" y="0" font-size="38.4" text-anchor="middle" transform="translate(334.38 1411.9) scale(1 1.070)">Orientation angle α (°)</text>
<text x="40.65" y="1159.05" font-size="38.9" text-anchor="middle" transform="rotate(-90 40.65 1159.05)">Transmission (%)</text>
<line x1="718.75" y1="1149.85" x2="1166.6" y2="1149.85" stroke="#6CCAC0" stroke-width="2.8" stroke-dasharray="5.6 5.4"/>
<line x1="793.39" y1="1149.85" x2="793.39" y2="1338.9" stroke="#6CCAC0" stroke-width="2.8" stroke-dasharray="5.6 5.4"/>
<line x1="905.35" y1="1149.85" x2="905.35" y2="1338.9" stroke="#6CCAC0" stroke-width="2.8" stroke-dasharray="5.6 5.4"/>
<line x1="1129.28" y1="1149.85" x2="1129.28" y2="1338.9" stroke="#6CCAC0" stroke-width="2.8" stroke-dasharray="5.6 5.4"/>
<line x1="1017.32" y1="1321.6" x2="1017.32" y2="1338.9" stroke="#6CCAC0" stroke-width="2.8" stroke-dasharray="5.6 5.4"/>
<polyline points="718.75,1304.34 719.99,1303.02 721.24,1301.64 722.48,1300.2 723.73,1298.71 724.97,1297.16 726.21,1295.56 727.46,1293.9 728.7,1292.19 729.95,1290.42 731.19,1288.59 732.43,1286.72 733.68,1284.78 734.92,1282.8 736.17,1280.76 737.41,1278.66 738.65,1276.52 739.9,1274.32 741.14,1272.07 742.39,1269.77 743.63,1267.43 744.87,1265.03 746.12,1262.59 747.36,1260.1 748.61,1257.56 749.85,1254.98 751.09,1252.36 752.34,1249.7 753.58,1247 754.83,1244.26 756.07,1241.48 757.31,1238.66 758.56,1235.81 759.8,1232.93 761.05,1230.02 762.29,1227.08 763.53,1224.11 764.78,1221.12 766.02,1218.1 767.27,1215.06 768.51,1212 769.76,1208.92 771,1205.83 772.24,1202.72 773.49,1199.6 774.73,1196.47 775.98,1193.33 777.22,1190.19 778.46,1187.05 779.71,1183.9 780.95,1180.75 782.2,1177.61 783.44,1174.47 784.68,1171.34 785.93,1168.22 787.17,1165.12 788.42,1162.03 789.66,1158.95 790.9,1155.89 792.15,1152.86 793.39,1149.85 794.64,1146.87 795.88,1143.91 797.12,1140.99 798.37,1138.09 799.61,1135.24 800.86,1132.42 802.1,1129.64 803.34,1126.9 804.59,1124.21 805.83,1121.56 807.08,1118.96 808.32,1116.41 809.56,1113.91 810.81,1111.47 812.05,1109.08 813.3,1106.75 814.54,1104.48 815.78,1102.28 817.03,1100.14 818.27,1098.06 819.52,1096.05 820.76,1094.11 822,1092.24 823.25,1090.44 824.49,1088.71 825.74,1087.06 826.98,1085.49 828.22,1083.99 829.47,1082.57 830.71,1081.23 831.96,1079.98 833.2,1078.8 834.44,1077.71 835.69,1076.7 836.93,1075.78 838.18,1074.94 839.42,1074.19 840.66,1073.52 841.91,1072.95 843.15,1072.46 844.4,1072.06 845.64,1071.74 846.88,1071.52 848.13,1071.39 849.37,1071.34 850.62,1071.39 851.86,1071.52 853.11,1071.74 854.35,1072.06 855.59,1072.46 856.84,1072.95 858.08,1073.52 859.33,1074.19 860.57,1074.94 861.81,1075.78 863.06,1076.7 864.3,1077.71 865.55,1078.8 866.79,1079.98 868.03,1081.23 869.28,1082.57 870.52,1083.99 871.77,1085.49 873.01,1087.06 874.25,1088.71 875.5,1090.44 876.74,1092.24 877.99,1094.11 879.23,1096.05 880.47,1098.06 881.72,1100.14 882.96,1102.28 884.21,1104.48 885.45,1106.75 886.69,1109.08 887.94,1111.47 889.18,1113.91 890.43,1116.41 891.67,1118.96 892.91,1121.56 894.16,1124.21 895.4,1126.9 896.65,1129.64 897.89,1132.42 899.13,1135.24 900.38,1138.09 901.62,1140.99 902.87,1143.91 904.11,1146.87 905.35,1149.85 906.6,1152.86 907.84,1155.89 909.09,1158.95 910.33,1162.03 911.57,1165.12 912.82,1168.22 914.06,1171.34 915.31,1174.47 916.55,1177.61 917.79,1180.75 919.04,1183.9 920.28,1187.05 921.53,1190.19 922.77,1193.33 924.01,1196.47 925.26,1199.6 926.5,1202.72 927.75,1205.83 928.99,1208.92 930.23,1212 931.48,1215.06 932.72,1218.1 933.97,1221.12 935.21,1224.11 936.45,1227.08 937.7,1230.02 938.94,1232.93 940.19,1235.81 941.43,1238.66 942.67,1241.48 943.92,1244.26 945.16,1247 946.41,1249.7 947.65,1252.36 948.9,1254.98 950.14,1257.56 951.38,1260.1 952.63,1262.59 953.87,1265.03 955.12,1267.43 956.36,1269.77 957.6,1272.07 958.85,1274.32 960.09,1276.52 961.34,1278.66 962.58,1280.76 963.82,1282.8 965.07,1284.78 966.31,1286.72 967.56,1288.59 968.8,1290.42 970.04,1292.19 971.29,1293.9 972.53,1295.56 973.78,1297.16 975.02,1298.71 976.26,1300.2 977.51,1301.64 978.75,1303.02 980,1304.34 981.24,1305.61 982.48,1306.83 983.73,1307.99 984.97,1309.1 986.22,1310.15 987.46,1311.16 988.7,1312.11 989.95,1313 991.19,1313.85 992.44,1314.65 993.68,1315.4 994.92,1316.1 996.17,1316.75 997.41,1317.36 998.66,1317.92 999.9,1318.43 1001.14,1318.9 1002.39,1319.33 1003.63,1319.72 1004.88,1320.07 1006.12,1320.38 1007.36,1320.65 1008.61,1320.88 1009.85,1321.08 1011.1,1321.24 1012.34,1321.38 1013.58,1321.48 1014.83,1321.55 1016.07,1321.59 1017.32,1321.6 1018.56,1321.59 1019.8,1321.55 1021.05,1321.49 1022.29,1321.41 1023.54,1321.3 1024.78,1321.18 1026.02,1321.04 1027.27,1320.88 1028.51,1320.71 1029.76,1320.52 1031,1320.32 1032.24,1320.11 1033.49,1319.89 1034.73,1319.67 1035.98,1319.43 1037.22,1319.19 1038.47,1318.94 1039.71,1318.7 1040.95,1318.44 1042.2,1318.19 1043.44,1317.94 1044.69,1317.69 1045.93,1317.44 1047.17,1317.2 1048.42,1316.95 1049.66,1316.72 1050.91,1316.49 1052.15,1316.27 1053.39,1316.05 1054.64,1315.85 1055.88,1315.65 1057.13,1315.47 1058.37,1315.29 1059.61,1315.13 1060.86,1314.98 1062.1,1314.84 1063.35,1314.71 1064.59,1314.6 1065.83,1314.51 1067.08,1314.42 1068.32,1314.36 1069.57,1314.3 1070.81,1314.26 1072.05,1314.24 1073.3,1314.23 1074.54,1314.24 1075.79,1314.26 1077.03,1314.3 1078.27,1314.36 1079.52,1314.42 1080.76,1314.51 1082.01,1314.6 1083.25,1314.71 1084.49,1314.84 1085.74,1314.98 1086.98,1315.13 1088.23,1315.29 1089.47,1315.47 1090.71,1315.65 1091.96,1315.85 1093.2,1316.05 1094.45,1316.27 1095.69,1316.49 1096.93,1316.72 1098.18,1316.95 1099.42,1317.2 1100.67,1317.44 1101.91,1317.69 1103.15,1317.94 1104.4,1318.19 1105.64,1318.44 1106.89,1318.7 1108.13,1318.94 1109.37,1319.19 1110.62,1319.43 1111.86,1319.67 1113.11,1319.89 1114.35,1320.11 1115.59,1320.32 1116.84,1320.52 1118.08,1320.71 1119.33,1320.88 1120.57,1321.04 1121.82,1321.18 1123.06,1321.3 1124.3,1321.41 1125.55,1321.49 1126.79,1321.55 1128.04,1321.59 1129.28,1321.6 1130.52,1321.59 1131.77,1321.55 1133.01,1321.48 1134.26,1321.38 1135.5,1321.24 1136.74,1321.08 1137.99,1320.88 1139.23,1320.65 1140.48,1320.38 1141.72,1320.07 1142.96,1319.72 1144.21,1319.33 1145.45,1318.9 1146.7,1318.43 1147.94,1317.92 1149.18,1317.36 1150.43,1316.75 1151.67,1316.1 1152.92,1315.4 1154.16,1314.65 1155.4,1313.85 1156.65,1313 1157.89,1312.11 1159.14,1311.16 1160.38,1310.15 1161.62,1309.1 1162.87,1307.99 1164.11,1306.83 1165.36,1305.61 1166.6,1304.34" fill="none" stroke="#C3594B" stroke-width="3.5" stroke-linejoin="round" stroke-linecap="round" clip-path="url(#cl_718_978)"/>
<polyline points="718.75,1081.23 719.99,1079.98 721.24,1078.8 722.48,1077.71 723.73,1076.7 724.97,1075.78 726.21,1074.94 727.46,1074.19 728.7,1073.52 729.95,1072.95 731.19,1072.46 732.43,1072.06 733.68,1071.74 734.92,1071.52 736.17,1071.39 737.41,1071.34 738.65,1071.39 739.9,1071.52 741.14,1071.74 742.39,1072.06 743.63,1072.46 744.87,1072.95 746.12,1073.52 747.36,1074.19 748.61,1074.94 749.85,1075.78 751.09,1076.7 752.34,1077.71 753.58,1078.8 754.83,1079.98 756.07,1081.23 757.31,1082.57 758.56,1083.99 759.8,1085.49 761.05,1087.06 762.29,1088.71 763.53,1090.44 764.78,1092.24 766.02,1094.11 767.27,1096.05 768.51,1098.06 769.76,1100.14 771,1102.28 772.24,1104.48 773.49,1106.75 774.73,1109.08 775.98,1111.47 777.22,1113.91 778.46,1116.41 779.71,1118.96 780.95,1121.56 782.2,1124.21 783.44,1126.9 784.68,1129.64 785.93,1132.42 787.17,1135.24 788.42,1138.09 789.66,1140.99 790.9,1143.91 792.15,1146.87 793.39,1149.85 794.64,1152.86 795.88,1155.89 797.12,1158.95 798.37,1162.03 799.61,1165.12 800.86,1168.22 802.1,1171.34 803.34,1174.47 804.59,1177.61 805.83,1180.75 807.08,1183.9 808.32,1187.05 809.56,1190.19 810.81,1193.33 812.05,1196.47 813.3,1199.6 814.54,1202.72 815.78,1205.83 817.03,1208.92 818.27,1212 819.52,1215.06 820.76,1218.1 822,1221.12 823.25,1224.11 824.49,1227.08 825.74,1230.02 826.98,1232.93 828.22,1235.81 829.47,1238.66 830.71,1241.48 831.96,1244.26 833.2,1247 834.44,1249.7 835.69,1252.36 836.93,1254.98 838.18,1257.56 839.42,1260.1 840.66,1262.59 841.91,1265.03 843.15,1267.43 844.4,1269.77 845.64,1272.07 846.88,1274.32 848.13,1276.52 849.37,1278.66 850.62,1280.76 851.86,1282.8 853.11,1284.78 854.35,1286.72 855.59,1288.59 856.84,1290.42 858.08,1292.19 859.33,1293.9 860.57,1295.56 861.81,1297.16 863.06,1298.71 864.3,1300.2 865.55,1301.64 866.79,1303.02 868.03,1304.34 869.28,1305.61 870.52,1306.83 871.77,1307.99 873.01,1309.1 874.25,1310.15 875.5,1311.16 876.74,1312.11 877.99,1313 879.23,1313.85 880.47,1314.65 881.72,1315.4 882.96,1316.1 884.21,1316.75 885.45,1317.36 886.69,1317.92 887.94,1318.43 889.18,1318.9 890.43,1319.33 891.67,1319.72 892.91,1320.07 894.16,1320.38 895.4,1320.65 896.65,1320.88 897.89,1321.08 899.13,1321.24 900.38,1321.38 901.62,1321.48 902.87,1321.55 904.11,1321.59 905.35,1321.6 906.6,1321.59 907.84,1321.55 909.09,1321.49 910.33,1321.41 911.57,1321.3 912.82,1321.18 914.06,1321.04 915.31,1320.88 916.55,1320.71 917.79,1320.52 919.04,1320.32 920.28,1320.11 921.53,1319.89 922.77,1319.67 924.01,1319.43 925.26,1319.19 926.5,1318.94 927.75,1318.7 928.99,1318.44 930.23,1318.19 931.48,1317.94 932.72,1317.69 933.97,1317.44 935.21,1317.2 936.45,1316.95 937.7,1316.72 938.94,1316.49 940.19,1316.27 941.43,1316.05 942.67,1315.85 943.92,1315.65 945.16,1315.47 946.41,1315.29 947.65,1315.13 948.9,1314.98 950.14,1314.84 951.38,1314.71 952.63,1314.6 953.87,1314.51 955.12,1314.42 956.36,1314.36 957.6,1314.3 958.85,1314.26 960.09,1314.24 961.34,1314.23 962.58,1314.24 963.82,1314.26 965.07,1314.3 966.31,1314.36 967.56,1314.42 968.8,1314.51 970.04,1314.6 971.29,1314.71 972.53,1314.84 973.78,1314.98 975.02,1315.13 976.26,1315.29 977.51,1315.47 978.75,1315.65 980,1315.85 981.24,1316.05 982.48,1316.27 983.73,1316.49 984.97,1316.72 986.22,1316.95 987.46,1317.2 988.7,1317.44 989.95,1317.69 991.19,1317.94 992.44,1318.19 993.68,1318.44 994.92,1318.7 996.17,1318.94 997.41,1319.19 998.66,1319.43 999.9,1319.67 1001.14,1319.89 1002.39,1320.11 1003.63,1320.32 1004.88,1320.52 1006.12,1320.71 1007.36,1320.88 1008.61,1321.04 1009.85,1321.18 1011.1,1321.3 1012.34,1321.41 1013.58,1321.49 1014.83,1321.55 1016.07,1321.59 1017.32,1321.6 1018.56,1321.59 1019.8,1321.55 1021.05,1321.48 1022.29,1321.38 1023.54,1321.24 1024.78,1321.08 1026.02,1320.88 1027.27,1320.65 1028.51,1320.38 1029.76,1320.07 1031,1319.72 1032.24,1319.33 1033.49,1318.9 1034.73,1318.43 1035.98,1317.92 1037.22,1317.36 1038.47,1316.75 1039.71,1316.1 1040.95,1315.4 1042.2,1314.65 1043.44,1313.85 1044.69,1313 1045.93,1312.11 1047.17,1311.16 1048.42,1310.15 1049.66,1309.1 1050.91,1307.99 1052.15,1306.83 1053.39,1305.61 1054.64,1304.34 1055.88,1303.02 1057.13,1301.64 1058.37,1300.2 1059.61,1298.71 1060.86,1297.16 1062.1,1295.56 1063.35,1293.9 1064.59,1292.19 1065.83,1290.42 1067.08,1288.59 1068.32,1286.72 1069.57,1284.78 1070.81,1282.8 1072.05,1280.76 1073.3,1278.66 1074.54,1276.52 1075.79,1274.32 1077.03,1272.07 1078.27,1269.77 1079.52,1267.43 1080.76,1265.03 1082.01,1262.59 1083.25,1260.1 1084.49,1257.56 1085.74,1254.98 1086.98,1252.36 1088.23,1249.7 1089.47,1247 1090.71,1244.26 1091.96,1241.48 1093.2,1238.66 1094.45,1235.81 1095.69,1232.93 1096.93,1230.02 1098.18,1227.08 1099.42,1224.11 1100.67,1221.12 1101.91,1218.1 1103.15,1215.06 1104.4,1212 1105.64,1208.92 1106.89,1205.83 1108.13,1202.72 1109.37,1199.6 1110.62,1196.47 1111.86,1193.33 1113.11,1190.19 1114.35,1187.05 1115.59,1183.9 1116.84,1180.75 1118.08,1177.61 1119.33,1174.47 1120.57,1171.34 1121.82,1168.22 1123.06,1165.12 1124.3,1162.03 1125.55,1158.95 1126.79,1155.89 1128.04,1152.86 1129.28,1149.85 1130.52,1146.87 1131.77,1143.91 1133.01,1140.99 1134.26,1138.09 1135.5,1135.24 1136.74,1132.42 1137.99,1129.64 1139.23,1126.9 1140.48,1124.21 1141.72,1121.56 1142.96,1118.96 1144.21,1116.41 1145.45,1113.91 1146.7,1111.47 1147.94,1109.08 1149.18,1106.75 1150.43,1104.48 1151.67,1102.28 1152.92,1100.14 1154.16,1098.06 1155.4,1096.05 1156.65,1094.11 1157.89,1092.24 1159.14,1090.44 1160.38,1088.71 1161.62,1087.06 1162.87,1085.49 1164.11,1083.99 1165.36,1082.57 1166.6,1081.23" fill="none" stroke="#2E7187" stroke-width="3.5" stroke-linejoin="round" stroke-linecap="round" clip-path="url(#cl_718_978)"/>
<ellipse cx="793.39" cy="1149.85" rx="5.6" ry="5.99" fill="url(#g_turq)"/>
<ellipse cx="905.35" cy="1149.85" rx="5.6" ry="5.99" fill="url(#g_turq)"/>
<ellipse cx="1129.28" cy="1149.85" rx="5.6" ry="5.99" fill="url(#g_turq)"/>
<ellipse cx="905.35" cy="1321.6" rx="5.6" ry="5.99" fill="url(#g_turq)"/>
<ellipse cx="1017.32" cy="1321.6" rx="5.6" ry="5.99" fill="url(#g_turq)"/>
<ellipse cx="1129.28" cy="1321.6" rx="5.6" ry="5.99" fill="url(#g_turq)"/>
<rect x="815.3" y="1156.3" width="41.8" height="34.6" fill="#70C9BF"/>
<text x="833" y="1183.27" font-size="27" text-anchor="middle" font-style="italic" fill="#F6067E" stroke="#F6067E" stroke-width="0.5">11</text>
<rect x="927.1" y="1157" width="42.2" height="34.6" fill="#70C9BF"/>
<text x="945" y="1183.97" font-size="27" text-anchor="middle" font-style="italic" fill="#F6067E" stroke="#F6067E" stroke-width="0.5">10</text>
<rect x="1065.4" y="1157" width="42.8" height="34.6" fill="#70C9BF"/>
<text x="1083.6" y="1183.97" font-size="27" text-anchor="middle" font-style="italic" fill="#F6067E" stroke="#F6067E" stroke-width="0.5">01</text>
<rect x="999.5" y="1276.2" width="41" height="34.4" fill="#70C9BF"/>
<text x="1016.8" y="1303.07" font-size="27" text-anchor="middle" font-style="italic" fill="#F6067E" stroke="#F6067E" stroke-width="0.5">00</text>
<line x1="956.3" y1="1005.5" x2="1018.3" y2="1005.5" stroke="#C3594B" stroke-width="3.5" stroke-linecap="round"/>
<text x="0" y="0" font-size="26.8" transform="translate(1025.3 1015.3) scale(1 1.075)">Channel 1</text>
<line x1="956.3" y1="1039" x2="1018.3" y2="1039" stroke="#2E7187" stroke-width="3.5" stroke-linecap="round"/>
<text x="0" y="0" font-size="26.8" transform="translate(1025.3 1048.8) scale(1 1.075)">Channel 2</text>
<text x="0" y="0" font-size="29.3" transform="translate(733.55 1013.4) scale(1 1.000)">Theory</text>
<line x1="793.39" y1="1338.9" x2="793.39" y2="1332.1" stroke="#000" stroke-width="3.5"/>
<line x1="868.03" y1="1338.9" x2="868.03" y2="1332.1" stroke="#000" stroke-width="3.5"/>
<line x1="942.67" y1="1338.9" x2="942.67" y2="1332.1" stroke="#000" stroke-width="3.5"/>
<line x1="1017.32" y1="1338.9" x2="1017.32" y2="1332.1" stroke="#000" stroke-width="3.5"/>
<line x1="1091.96" y1="1338.9" x2="1091.96" y2="1332.1" stroke="#000" stroke-width="3.5"/>
<line x1="756.07" y1="1338.9" x2="756.07" y2="1335.3" stroke="#000" stroke-width="3.5"/>
<line x1="830.71" y1="1338.9" x2="830.71" y2="1335.3" stroke="#000" stroke-width="3.5"/>
<line x1="905.35" y1="1338.9" x2="905.35" y2="1335.3" stroke="#000" stroke-width="3.5"/>
<line x1="980" y1="1338.9" x2="980" y2="1335.3" stroke="#000" stroke-width="3.5"/>
<line x1="1054.64" y1="1338.9" x2="1054.64" y2="1335.3" stroke="#000" stroke-width="3.5"/>
<line x1="1129.28" y1="1338.9" x2="1129.28" y2="1335.3" stroke="#000" stroke-width="3.5"/>
<line x1="718.75" y1="1321.6" x2="725.55" y2="1321.6" stroke="#000" stroke-width="3.5"/>
<line x1="718.75" y1="1252.9" x2="725.55" y2="1252.9" stroke="#000" stroke-width="3.5"/>
<line x1="718.75" y1="1184.2" x2="725.55" y2="1184.2" stroke="#000" stroke-width="3.5"/>
<line x1="718.75" y1="1115.5" x2="725.55" y2="1115.5" stroke="#000" stroke-width="3.5"/>
<line x1="718.75" y1="1046.8" x2="725.55" y2="1046.8" stroke="#000" stroke-width="3.5"/>
<line x1="718.75" y1="1287.25" x2="722.35" y2="1287.25" stroke="#000" stroke-width="3.5"/>
<line x1="718.75" y1="1218.55" x2="722.35" y2="1218.55" stroke="#000" stroke-width="3.5"/>
<line x1="718.75" y1="1149.85" x2="722.35" y2="1149.85" stroke="#000" stroke-width="3.5"/>
<line x1="718.75" y1="1081.15" x2="722.35" y2="1081.15" stroke="#000" stroke-width="3.5"/>
<line x1="718.75" y1="1012.45" x2="722.35" y2="1012.45" stroke="#000" stroke-width="3.5"/>
<rect x="718.75" y="978.75" width="447.85" height="360.15" fill="none" stroke="#000" stroke-width="3.5"/>
<text x="0" y="0" font-size="29.65" text-anchor="middle" transform="translate(718.75 1370.6) scale(1 1.075)">0</text>
<text x="0" y="0" font-size="29.65" text-anchor="middle" transform="translate(793.39 1370.6) scale(1 1.075)">30</text>
<text x="0" y="0" font-size="29.65" text-anchor="middle" transform="translate(868.03 1370.6) scale(1 1.075)">60</text>
<text x="0" y="0" font-size="29.65" text-anchor="middle" transform="translate(942.67 1370.6) scale(1 1.075)">90</text>
<text x="0" y="0" font-size="29.65" text-anchor="middle" transform="translate(1017.32 1370.6) scale(1 1.075)">120</text>
<text x="0" y="0" font-size="29.65" text-anchor="middle" transform="translate(1091.96 1370.6) scale(1 1.075)">150</text>
<text x="0" y="0" font-size="29.65" text-anchor="middle" transform="translate(1166.6 1370.6) scale(1 1.075)">180</text>
<text x="0" y="0" font-size="29.65" text-anchor="end" transform="translate(710.75 1332) scale(1 1.075)">0</text>
<text x="0" y="0" font-size="29.65" text-anchor="end" transform="translate(710.75 1263.3) scale(1 1.075)">20</text>
<text x="0" y="0" font-size="29.65" text-anchor="end" transform="translate(710.75 1194.6) scale(1 1.075)">40</text>
<text x="0" y="0" font-size="29.65" text-anchor="end" transform="translate(710.75 1125.9) scale(1 1.075)">60</text>
<text x="0" y="0" font-size="29.65" text-anchor="end" transform="translate(710.75 1057.2) scale(1 1.075)">80</text>
<text x="0" y="0" font-size="29.65" text-anchor="end" transform="translate(710.75 988.5) scale(1 1.075)">100</text>
<text x="0" y="0" font-size="38.4" text-anchor="middle" transform="translate(941.97 1411.9) scale(1 1.070)">Orientation angle α (°)</text>
<text x="648.15" y="1159.05" font-size="38.9" text-anchor="middle" transform="rotate(-90 648.15 1159.05)">Transmission (%)</text>
<polyline points="1326.75,995.62 1351.62,995.62 1376.5,995.62 1401.38,995.62 1426.25,995.96 1451.12,995.96 1476,996.31 1500.88,996.65 1525.75,996.99 1550.62,998.37 1575.5,996.99 1600.38,996.31 1625.25,995.96 1650.12,995.96 1675,995.96 1699.88,995.62 1724.75,995.62 1749.62,995.62 1774.5,995.62" fill="none" stroke="#C4594B" stroke-width="3.2" stroke-linejoin="round" stroke-linecap="round" clip-path="url(#cl_1326_978)"/>
<polyline points="1326.75,1317.13 1351.62,1316.1 1376.5,1318.85 1401.38,1319.88 1426.25,1320.57 1451.12,1319.54 1476,1320.23 1500.88,1321.26 1525.75,1322.63 1550.62,1321.26 1575.5,1322.97 1600.38,1321.26 1625.25,1320.23 1650.12,1319.88 1675,1320.23 1699.88,1319.88 1724.75,1318.51 1749.62,1315.76 1774.5,1317.48" fill="none" stroke="#1873B5" stroke-width="3.2" stroke-linejoin="round" stroke-linecap="round" clip-path="url(#cl_1326_978)"/>
<g clip-path="url(#cl_1326_978)">
<ellipse cx="1326.75" cy="995.62" rx="5.4" ry="5.78" fill="url(#g_red)"/>
<ellipse cx="1351.62" cy="995.62" rx="5.4" ry="5.78" fill="url(#g_red)"/>
<ellipse cx="1376.5" cy="995.62" rx="5.4" ry="5.78" fill="url(#g_red)"/>
<ellipse cx="1401.38" cy="995.62" rx="5.4" ry="5.78" fill="url(#g_red)"/>
<ellipse cx="1426.25" cy="995.96" rx="5.4" ry="5.78" fill="url(#g_red)"/>
<ellipse cx="1451.12" cy="995.96" rx="5.4" ry="5.78" fill="url(#g_red)"/>
<ellipse cx="1476" cy="996.31" rx="5.4" ry="5.78" fill="url(#g_red)"/>
<ellipse cx="1500.88" cy="996.65" rx="5.4" ry="5.78" fill="url(#g_red)"/>
<ellipse cx="1525.75" cy="996.99" rx="5.4" ry="5.78" fill="url(#g_red)"/>
<ellipse cx="1550.62" cy="998.37" rx="5.4" ry="5.78" fill="url(#g_red)"/>
<ellipse cx="1575.5" cy="996.99" rx="5.4" ry="5.78" fill="url(#g_red)"/>
<ellipse cx="1600.38" cy="996.31" rx="5.4" ry="5.78" fill="url(#g_red)"/>
<ellipse cx="1625.25" cy="995.96" rx="5.4" ry="5.78" fill="url(#g_red)"/>
<ellipse cx="1650.12" cy="995.96" rx="5.4" ry="5.78" fill="url(#g_red)"/>
<ellipse cx="1675" cy="995.96" rx="5.4" ry="5.78" fill="url(#g_red)"/>
<ellipse cx="1699.88" cy="995.62" rx="5.4" ry="5.78" fill="url(#g_red)"/>
<ellipse cx="1724.75" cy="995.62" rx="5.4" ry="5.78" fill="url(#g_red)"/>
<ellipse cx="1749.62" cy="995.62" rx="5.4" ry="5.78" fill="url(#g_red)"/>
<ellipse cx="1774.5" cy="995.62" rx="5.4" ry="5.78" fill="url(#g_red)"/>
<ellipse cx="1326.75" cy="1317.13" rx="5.4" ry="5.78" fill="url(#g_teal)"/>
<ellipse cx="1351.62" cy="1316.1" rx="5.4" ry="5.78" fill="url(#g_teal)"/>
<ellipse cx="1376.5" cy="1318.85" rx="5.4" ry="5.78" fill="url(#g_teal)"/>
<ellipse cx="1401.38" cy="1319.88" rx="5.4" ry="5.78" fill="url(#g_teal)"/>
<ellipse cx="1426.25" cy="1320.57" rx="5.4" ry="5.78" fill="url(#g_teal)"/>
<ellipse cx="1451.12" cy="1319.54" rx="5.4" ry="5.78" fill="url(#g_teal)"/>
<ellipse cx="1476" cy="1320.23" rx="5.4" ry="5.78" fill="url(#g_teal)"/>
<ellipse cx="1500.88" cy="1321.26" rx="5.4" ry="5.78" fill="url(#g_teal)"/>
<ellipse cx="1525.75" cy="1322.63" rx="5.4" ry="5.78" fill="url(#g_teal)"/>
<ellipse cx="1550.62" cy="1321.26" rx="5.4" ry="5.78" fill="url(#g_teal)"/>
<ellipse cx="1575.5" cy="1322.97" rx="5.4" ry="5.78" fill="url(#g_teal)"/>
<ellipse cx="1600.38" cy="1321.26" rx="5.4" ry="5.78" fill="url(#g_teal)"/>
<ellipse cx="1625.25" cy="1320.23" rx="5.4" ry="5.78" fill="url(#g_teal)"/>
<ellipse cx="1650.12" cy="1319.88" rx="5.4" ry="5.78" fill="url(#g_teal)"/>
<ellipse cx="1675" cy="1320.23" rx="5.4" ry="5.78" fill="url(#g_teal)"/>
<ellipse cx="1699.88" cy="1319.88" rx="5.4" ry="5.78" fill="url(#g_teal)"/>
<ellipse cx="1724.75" cy="1318.51" rx="5.4" ry="5.78" fill="url(#g_teal)"/>
<ellipse cx="1749.62" cy="1315.76" rx="5.4" ry="5.78" fill="url(#g_teal)"/>
<ellipse cx="1774.5" cy="1317.48" rx="5.4" ry="5.78" fill="url(#g_teal)"/>
</g>
<rect x="1481.85" y="1007" width="35.3" height="38.6" fill="#70C9BF"/>
<text x="1496.3" y="1035.97" font-size="27" text-anchor="middle" font-style="italic" fill="#F6067E" stroke="#F6067E" stroke-width="0.5">1</text>
<rect x="1547.4" y="1264.9" width="42" height="45.4" fill="#70C9BF"/>
<text x="1565.2" y="1297.27" font-size="27" text-anchor="middle" font-style="italic" fill="#F6067E" stroke="#F6067E" stroke-width="0.5">0</text>
<rect x="1605.7" y="1101.2" width="156" height="42.6" fill="#70C9BF"/>
<text x="1683.6" y="1130.8" font-size="27.2" text-anchor="middle" fill="#F6067E">Channel 3</text>
<line x1="1630.3" y1="1164.6" x2="1693" y2="1164.6" stroke="#C4594B" stroke-width="3.2" stroke-linecap="round"/>
<ellipse cx="1661.4" cy="1164.6" rx="5.4" ry="5.78" fill="url(#g_red)"/>
<text x="0" y="0" font-size="26.8" transform="translate(1700.4 1174.4) scale(1 1.075)">PT</text>
<line x1="1630.3" y1="1198.4" x2="1693" y2="1198.4" stroke="#1873B5" stroke-width="3.2" stroke-linecap="round"/>
<ellipse cx="1661.4" cy="1198.4" rx="5.4" ry="5.78" fill="url(#g_teal)"/>
<text x="0" y="0" font-size="26.8" transform="translate(1700.4 1208.2) scale(1 1.075)">PR</text>
<text x="0" y="0" font-size="29.3" font-style="italic" transform="translate(1341.35 1301.6) scale(1 1.000)">λ = 750 nm</text>
<line x1="1401.38" y1="1338.9" x2="1401.38" y2="1332.1" stroke="#000" stroke-width="3.5"/>
<line x1="1476" y1="1338.9" x2="1476" y2="1332.1" stroke="#000" stroke-width="3.5"/>
<line x1="1550.62" y1="1338.9" x2="1550.62" y2="1332.1" stroke="#000" stroke-width="3.5"/>
<line x1="1625.25" y1="1338.9" x2="1625.25" y2="1332.1" stroke="#000" stroke-width="3.5"/>
<line x1="1699.88" y1="1338.9" x2="1699.88" y2="1332.1" stroke="#000" stroke-width="3.5"/>
<line x1="1364.06" y1="1338.9" x2="1364.06" y2="1335.3" stroke="#000" stroke-width="3.5"/>
<line x1="1438.69" y1="1338.9" x2="1438.69" y2="1335.3" stroke="#000" stroke-width="3.5"/>
<line x1="1513.31" y1="1338.9" x2="1513.31" y2="1335.3" stroke="#000" stroke-width="3.5"/>
<line x1="1587.94" y1="1338.9" x2="1587.94" y2="1335.3" stroke="#000" stroke-width="3.5"/>
<line x1="1662.56" y1="1338.9" x2="1662.56" y2="1335.3" stroke="#000" stroke-width="3.5"/>
<line x1="1737.19" y1="1338.9" x2="1737.19" y2="1335.3" stroke="#000" stroke-width="3.5"/>
<line x1="1326.75" y1="1321.6" x2="1333.55" y2="1321.6" stroke="#000" stroke-width="3.5"/>
<line x1="1326.75" y1="1252.9" x2="1333.55" y2="1252.9" stroke="#000" stroke-width="3.5"/>
<line x1="1326.75" y1="1184.2" x2="1333.55" y2="1184.2" stroke="#000" stroke-width="3.5"/>
<line x1="1326.75" y1="1115.5" x2="1333.55" y2="1115.5" stroke="#000" stroke-width="3.5"/>
<line x1="1326.75" y1="1046.8" x2="1333.55" y2="1046.8" stroke="#000" stroke-width="3.5"/>
<line x1="1326.75" y1="1287.25" x2="1330.35" y2="1287.25" stroke="#000" stroke-width="3.5"/>
<line x1="1326.75" y1="1218.55" x2="1330.35" y2="1218.55" stroke="#000" stroke-width="3.5"/>
<line x1="1326.75" y1="1149.85" x2="1330.35" y2="1149.85" stroke="#000" stroke-width="3.5"/>
<line x1="1326.75" y1="1081.15" x2="1330.35" y2="1081.15" stroke="#000" stroke-width="3.5"/>
<line x1="1326.75" y1="1012.45" x2="1330.35" y2="1012.45" stroke="#000" stroke-width="3.5"/>
<rect x="1326.75" y="978.75" width="447.75" height="360.15" fill="none" stroke="#000" stroke-width="3.5"/>
<text x="0" y="0" font-size="29.65" text-anchor="middle" transform="translate(1326.75 1370.6) scale(1 1.075)">0</text>
<text x="0" y="0" font-size="29.65" text-anchor="middle" transform="translate(1401.38 1370.6) scale(1 1.075)">30</text>
<text x="0" y="0" font-size="29.65" text-anchor="middle" transform="translate(1476 1370.6) scale(1 1.075)">60</text>
<text x="0" y="0" font-size="29.65" text-anchor="middle" transform="translate(1550.62 1370.6) scale(1 1.075)">90</text>
<text x="0" y="0" font-size="29.65" text-anchor="middle" transform="translate(1625.25 1370.6) scale(1 1.075)">120</text>
<text x="0" y="0" font-size="29.65" text-anchor="middle" transform="translate(1699.88 1370.6) scale(1 1.075)">150</text>
<text x="0" y="0" font-size="29.65" text-anchor="middle" transform="translate(1774.5 1370.6) scale(1 1.075)">180</text>
<text x="0" y="0" font-size="29.65" text-anchor="end" transform="translate(1318.75 1332) scale(1 1.075)">0</text>
<text x="0" y="0" font-size="29.65" text-anchor="end" transform="translate(1318.75 1263.3) scale(1 1.075)">20</text>
<text x="0" y="0" font-size="29.65" text-anchor="end" transform="translate(1318.75 1194.6) scale(1 1.075)">40</text>
<text x="0" y="0" font-size="29.65" text-anchor="end" transform="translate(1318.75 1125.9) scale(1 1.075)">60</text>
<text x="0" y="0" font-size="29.65" text-anchor="end" transform="translate(1318.75 1057.2) scale(1 1.075)">80</text>
<text x="0" y="0" font-size="29.65" text-anchor="end" transform="translate(1318.75 988.5) scale(1 1.075)">100</text>
<text x="0" y="0" font-size="38.4" text-anchor="middle" transform="translate(1549.92 1411.9) scale(1 1.070)">Orientation angle α (°)</text>
<text x="1256.15" y="1159.05" font-size="38.9" text-anchor="middle" transform="rotate(-90 1256.15 1159.05)">Transmission (%)</text>
<path d="M86.8,1497 H447 V1765.5 H502.6 V1700 L642.4,1840.4 L502.6,1979 V1917.2 H447 V2185.3 H86.8 Z" fill="none" stroke="#000" stroke-width="3.3" stroke-dasharray="12.9 9.5" stroke-dashoffset="-2.2"/>
<rect x="114.25" y="1521.7" width="306.05" height="294.1" fill="#AFCEDC"/>
<line x1="267.4" y1="1522.2" x2="267.4" y2="1814.8" stroke="#000" stroke-width="3.4" stroke-dasharray="12.9 9.5"/>
<line x1="114.75" y1="1668.7" x2="419.3" y2="1668.7" stroke="#000" stroke-width="3.4" stroke-dasharray="12.9 9.5"/>
<rect x="114.25" y="1868.2" width="306.05" height="292.6" fill="#AFCEDC"/>
<line x1="267.4" y1="1868.7" x2="267.4" y2="2159.8" stroke="#000" stroke-width="3.4" stroke-dasharray="12.9 9.5"/>
<line x1="114.75" y1="2014.6" x2="419.3" y2="2014.6" stroke="#000" stroke-width="3.4" stroke-dasharray="12.9 9.5"/>
<polygon points="186.25,1555 227,1625.5 194.5,1644.25 153.75,1573.75" fill="#C00000" stroke="#E8641E" stroke-width="0.7"/>
<text transform="translate(191.57 1597.83) rotate(60)" x="0" y="13.42" font-size="37.5" text-anchor="middle" fill="#fff">PT</text>
<polygon points="301.25,1555 403.75,1582 387,1644.5 284.5,1617" fill="#C00000" stroke="#E8641E" stroke-width="0.7"/>
<text transform="translate(345.93 1599.33) rotate(15)" x="0" y="14.14" font-size="39.5" text-anchor="middle" fill="#fff">PR</text>
<polygon points="220.75,1686.75 253.25,1742.5 161.75,1795 129.5,1739.25" fill="#C00000" stroke="#E8641E" stroke-width="0.7"/>
<polygon points="334.25,1698.75 370.75,1708.25 350,1787 313,1777" fill="#C00000" stroke="#E8641E" stroke-width="0.7"/>
<polygon points="192,1880.75 243.25,1968.25 185,2002 134.25,1913.75" fill="#C00000" stroke="#E8641E" stroke-width="0.7"/>
<polygon points="311.25,1911.5 390,1932 380,1969.5 301.25,1948.25" fill="#C00000" stroke="#E8641E" stroke-width="0.7"/>
<polygon points="216.75,2051.5 236.25,2084 165.5,2125 146.25,2092" fill="#C00000" stroke="#E8641E" stroke-width="0.7"/>
<polygon points="325,2031.25 390,2048.75 363.25,2146.5 298.75,2129" fill="#C00000" stroke="#E8641E" stroke-width="0.7"/>
<rect x="114.25" y="1521.7" width="306.05" height="294.1" fill="none" stroke="#000" stroke-width="3.6"/>
<rect x="114.25" y="1868.2" width="306.05" height="292.6" fill="none" stroke="#000" stroke-width="3.6"/>
<rect x="697.6" y="1472.5" width="702" height="738.9" fill="none" stroke="#000" stroke-width="3.3" stroke-dasharray="12.9 9.5"/>
<rect x="1436.3" y="1471.3" width="345.7" height="738.3" fill="none" stroke="#000" stroke-width="3.3" stroke-dasharray="12.9 9.5"/>
<text x="867.8" y="1522.3" font-size="39" text-anchor="middle">Channel 1</text>
<text x="1227.3" y="1522.3" font-size="39" text-anchor="middle">Channel 2</text>
<text x="1609.3" y="1522.3" font-size="39" text-anchor="middle">Channel 3</text>
<rect x="714" y="1544.5" width="310.2" height="297.7" fill="#000"/>
<rect x="717.6" y="1548.1" width="150.4" height="147.4" fill="#ED1C24"/>
<rect x="868" y="1548.1" width="152.6" height="147.4" fill="#ED1C24"/>
<line x1="868" y1="1552.4" x2="868" y2="1836.2" stroke="#fff" stroke-width="3.2" stroke-dasharray="12.9 9.5"/>
<line x1="718.6" y1="1695.5" x2="1020.6" y2="1695.5" stroke="#fff" stroke-width="3.2" stroke-dasharray="12.9 9.5"/>
<text x="795.1" y="1639.2" font-size="50" text-anchor="middle" font-style="italic" fill="#fff">1</text>
<text x="946.6" y="1639.2" font-size="50" text-anchor="middle" font-style="italic" fill="#fff">1</text>
<text x="793.6" y="1785.05" font-size="50" text-anchor="middle" font-style="italic" fill="#fff">0</text>
<text x="945.1" y="1785.05" font-size="50" text-anchor="middle" font-style="italic" fill="#fff">0</text>
<rect x="714.8" y="1895.8" width="309.8" height="297.5" fill="#000"/>
<rect x="718.4" y="1899.4" width="149.6" height="146.9" fill="#ED1C24"/>
<rect x="868" y="1899.4" width="153" height="146.9" fill="#ED1C24"/>
<line x1="868" y1="1903.7" x2="868" y2="2187.3" stroke="#fff" stroke-width="3.2" stroke-dasharray="12.9 9.5"/>
<line x1="719.4" y1="2046.3" x2="1021" y2="2046.3" stroke="#fff" stroke-width="3.2" stroke-dasharray="12.9 9.5"/>
<text x="795.5" y="1990.25" font-size="50" text-anchor="middle" font-style="italic" fill="#fff">1</text>
<text x="946.8" y="1990.25" font-size="50" text-anchor="middle" font-style="italic" fill="#fff">1</text>
<text x="794" y="2136" font-size="50" text-anchor="middle" font-style="italic" fill="#fff">0</text>
<text x="945.3" y="2136" font-size="50" text-anchor="middle" font-style="italic" fill="#fff">0</text>
<rect x="1071.7" y="1544.5" width="310.3" height="297.7" fill="#000"/>
<rect x="1075.3" y="1548.1" width="151.5" height="147.4" fill="#ED1C24"/>
<rect x="1226.8" y="1695.5" width="151.6" height="143.1" fill="#ED1C24"/>
<line x1="1226.8" y1="1552.4" x2="1226.8" y2="1836.2" stroke="#fff" stroke-width="3.2" stroke-dasharray="12.9 9.5"/>
<line x1="1076.3" y1="1695.5" x2="1378.4" y2="1695.5" stroke="#fff" stroke-width="3.2" stroke-dasharray="12.9 9.5"/>
<text x="1153.35" y="1639.2" font-size="50" text-anchor="middle" font-style="italic" fill="#fff">1</text>
<text x="1303.4" y="1639.8" font-size="50" text-anchor="middle" font-style="italic" fill="#fff">0</text>
<text x="1151.85" y="1785.05" font-size="50" text-anchor="middle" font-style="italic" fill="#fff">0</text>
<text x="1304.9" y="1784.45" font-size="50" text-anchor="middle" font-style="italic" fill="#fff">1</text>
<rect x="1072.2" y="1895.8" width="310.3" height="297.5" fill="#000"/>
<rect x="1075.8" y="1899.4" width="151" height="146.9" fill="#ED1C24"/>
<rect x="1226.8" y="2046.3" width="152.1" height="143.4" fill="#ED1C24"/>
<line x1="1226.8" y1="1903.7" x2="1226.8" y2="2187.3" stroke="#fff" stroke-width="3.2" stroke-dasharray="12.9 9.5"/>
<line x1="1076.8" y1="2046.3" x2="1378.9" y2="2046.3" stroke="#fff" stroke-width="3.2" stroke-dasharray="12.9 9.5"/>
<text x="1153.6" y="1990.25" font-size="50" text-anchor="middle" font-style="italic" fill="#fff">1</text>
<text x="1303.65" y="1990.85" font-size="50" text-anchor="middle" font-style="italic" fill="#fff">0</text>
<text x="1152.1" y="2136" font-size="50" text-anchor="middle" font-style="italic" fill="#fff">0</text>
<text x="1305.15" y="2135.4" font-size="50" text-anchor="middle" font-style="italic" fill="#fff">1</text>
<rect x="1454.4" y="1544.5" width="310.2" height="297.7" fill="#000"/>
<rect x="1458" y="1548.1" width="150.3" height="147.4" fill="#ED1C24"/>
<rect x="1608.3" y="1695.5" width="152.7" height="143.1" fill="#FF0000"/>
<line x1="1608.3" y1="1552.4" x2="1608.3" y2="1836.2" stroke="#fff" stroke-width="3.2" stroke-dasharray="12.9 9.5"/>
<line x1="1459" y1="1695.5" x2="1761" y2="1695.5" stroke="#fff" stroke-width="3.2" stroke-dasharray="12.9 9.5"/>
<text x="1535.45" y="1639.2" font-size="50" text-anchor="middle" font-style="italic" fill="#fff">1</text>
<text x="1685.45" y="1639.8" font-size="50" text-anchor="middle" font-style="italic" fill="#fff">0</text>
<text x="1533.95" y="1785.05" font-size="50" text-anchor="middle" font-style="italic" fill="#fff">0</text>
<text x="1686.95" y="1784.45" font-size="50" text-anchor="middle" font-style="italic" fill="#fff">1</text>
<rect x="1454" y="1895.8" width="310.2" height="297.5" fill="#000"/>
<rect x="1608.3" y="1899.4" width="152.3" height="146.9" fill="#ED1C24"/>
<rect x="1457.6" y="2046.3" width="150.7" height="143.4" fill="#ED1C24"/>
<line x1="1608.3" y1="1903.7" x2="1608.3" y2="2187.3" stroke="#fff" stroke-width="3.2" stroke-dasharray="12.9 9.5"/>
<line x1="1458.6" y1="2046.3" x2="1760.6" y2="2046.3" stroke="#fff" stroke-width="3.2" stroke-dasharray="12.9 9.5"/>
<text x="1533.75" y="1990.85" font-size="50" text-anchor="middle" font-style="italic" fill="#fff">0</text>
<text x="1686.75" y="1990.25" font-size="50" text-anchor="middle" font-style="italic" fill="#fff">1</text>
<text x="1535.25" y="2135.4" font-size="50" text-anchor="middle" font-style="italic" fill="#fff">1</text>
<text x="1685.25" y="2136" font-size="50" text-anchor="middle" font-style="italic" fill="#fff">0</text>
</svg></body></html>
